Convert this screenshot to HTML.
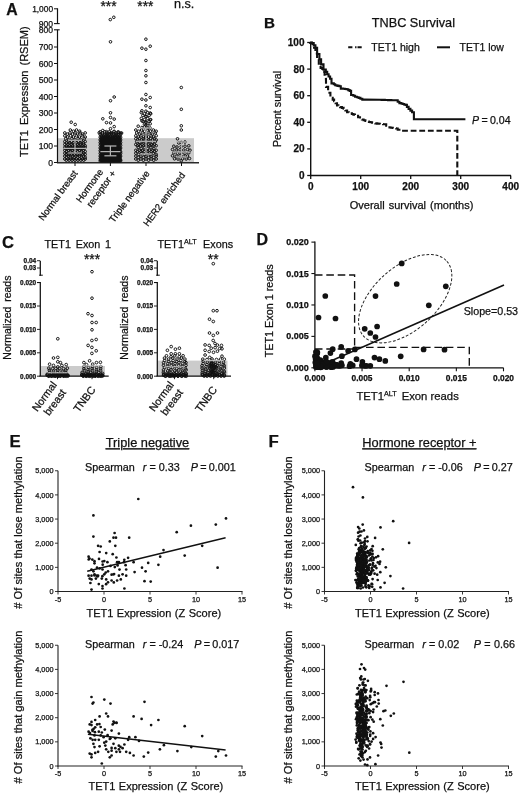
<!DOCTYPE html>
<html lang="en"><head><meta charset="utf-8"><title>TET1 figure</title>
<style>html,body{margin:0;padding:0;background:#fff}svg{display:block}text{font-family:'Liberation Sans', sans-serif;fill:#111;stroke:#111;stroke-width:0.25px}</style>
</head><body>
<svg width="520" height="795" viewBox="0 0 520 795">
<rect width="520" height="795" fill="#fff"/>
<text x="6.3" y="14.6" font-size="15.8" text-anchor="start" font-weight="bold">A</text>
<rect x="57.5" y="138.2" width="136.5" height="24.30000000000001" fill="#cbcbcb"/>
<line x1="57.50" y1="8.30" x2="57.50" y2="23.60" stroke="#111" stroke-width="1.2"/>
<line x1="57.50" y1="29.80" x2="57.50" y2="162.50" stroke="#111" stroke-width="1.2"/>
<line x1="54.00" y1="23.60" x2="59.70" y2="23.60" stroke="#111" stroke-width="1.1"/>
<line x1="54.00" y1="29.80" x2="59.70" y2="29.80" stroke="#111" stroke-width="1.1"/>
<line x1="56.90" y1="162.70" x2="199.00" y2="162.70" stroke="#2a2a2a" stroke-width="1.5"/>
<line x1="54.00" y1="162.50" x2="57.50" y2="162.50" stroke="#111" stroke-width="1"/>
<text x="53.1" y="165.5" font-size="8.6" text-anchor="end">0</text>
<line x1="54.00" y1="146.00" x2="57.50" y2="146.00" stroke="#111" stroke-width="1"/>
<text x="53.1" y="149.0" font-size="8.6" text-anchor="end">100</text>
<line x1="54.00" y1="129.50" x2="57.50" y2="129.50" stroke="#111" stroke-width="1"/>
<text x="53.1" y="132.5" font-size="8.6" text-anchor="end">200</text>
<line x1="54.00" y1="113.00" x2="57.50" y2="113.00" stroke="#111" stroke-width="1"/>
<text x="53.1" y="116.0" font-size="8.6" text-anchor="end">300</text>
<line x1="54.00" y1="96.50" x2="57.50" y2="96.50" stroke="#111" stroke-width="1"/>
<text x="53.1" y="99.5" font-size="8.6" text-anchor="end">400</text>
<line x1="54.00" y1="80.00" x2="57.50" y2="80.00" stroke="#111" stroke-width="1"/>
<text x="53.1" y="83.0" font-size="8.6" text-anchor="end">500</text>
<line x1="54.00" y1="63.50" x2="57.50" y2="63.50" stroke="#111" stroke-width="1"/>
<text x="53.1" y="66.5" font-size="8.6" text-anchor="end">600</text>
<line x1="54.00" y1="47.00" x2="57.50" y2="47.00" stroke="#111" stroke-width="1"/>
<text x="53.1" y="50.0" font-size="8.6" text-anchor="end">700</text>
<text x="53.1" y="32.6" font-size="8.6" text-anchor="end">800</text>
<text x="53.1" y="26.8" font-size="8.6" text-anchor="end">900</text>
<line x1="54.00" y1="8.80" x2="57.50" y2="8.80" stroke="#111" stroke-width="1"/>
<text x="53.1" y="11.8" font-size="8.4" text-anchor="end">1,000</text>
<text x="27.8" y="91.7" font-size="11" text-anchor="middle" transform="rotate(-90 27.8 91.7)" word-spacing="2">TET1 Expression (RSEM)</text>
<line x1="75.00" y1="162.50" x2="75.00" y2="166.00" stroke="#111" stroke-width="1"/>
<line x1="110.40" y1="162.50" x2="110.40" y2="166.00" stroke="#111" stroke-width="1"/>
<line x1="146.00" y1="162.50" x2="146.00" y2="166.00" stroke="#111" stroke-width="1"/>
<line x1="181.50" y1="162.50" x2="181.50" y2="166.00" stroke="#111" stroke-width="1"/>
<g fill="none" stroke="#111" stroke-width="1.0"><circle cx="64.8" cy="150.3" r="1.3"/><circle cx="66.7" cy="151.5" r="1.3"/><circle cx="68.5" cy="150.3" r="1.3"/><circle cx="70.4" cy="151.5" r="1.3"/><circle cx="72.2" cy="150.3" r="1.3"/><circle cx="74.1" cy="151.5" r="1.3"/><circle cx="75.9" cy="150.3" r="1.3"/><circle cx="77.8" cy="151.5" r="1.3"/><circle cx="79.6" cy="150.3" r="1.3"/><circle cx="81.5" cy="151.5" r="1.3"/><circle cx="83.3" cy="150.3" r="1.3"/><circle cx="85.2" cy="151.5" r="1.3"/><circle cx="64.8" cy="156.1" r="1.3"/><circle cx="66.7" cy="157.3" r="1.3"/><circle cx="68.5" cy="156.1" r="1.3"/><circle cx="70.4" cy="157.3" r="1.3"/><circle cx="72.2" cy="156.1" r="1.3"/><circle cx="74.1" cy="157.3" r="1.3"/><circle cx="75.9" cy="156.1" r="1.3"/><circle cx="77.8" cy="157.3" r="1.3"/><circle cx="79.6" cy="156.1" r="1.3"/><circle cx="81.5" cy="157.3" r="1.3"/><circle cx="83.3" cy="156.1" r="1.3"/><circle cx="85.2" cy="157.3" r="1.3"/><circle cx="64.8" cy="141.6" r="1.3"/><circle cx="66.5" cy="142.8" r="1.3"/><circle cx="68.2" cy="141.6" r="1.3"/><circle cx="69.9" cy="142.8" r="1.3"/><circle cx="71.6" cy="141.6" r="1.3"/><circle cx="73.3" cy="142.8" r="1.3"/><circle cx="75.0" cy="141.6" r="1.3"/><circle cx="76.7" cy="142.8" r="1.3"/><circle cx="78.4" cy="141.6" r="1.3"/><circle cx="80.1" cy="142.8" r="1.3"/><circle cx="81.8" cy="141.6" r="1.3"/><circle cx="83.5" cy="142.8" r="1.3"/><circle cx="85.2" cy="141.6" r="1.3"/><circle cx="64.8" cy="159.0" r="1.3"/><circle cx="66.3" cy="160.2" r="1.3"/><circle cx="67.7" cy="159.0" r="1.3"/><circle cx="69.2" cy="160.2" r="1.3"/><circle cx="70.6" cy="159.0" r="1.3"/><circle cx="72.1" cy="160.2" r="1.3"/><circle cx="73.5" cy="159.0" r="1.3"/><circle cx="75.0" cy="160.2" r="1.3"/><circle cx="76.5" cy="159.0" r="1.3"/><circle cx="77.9" cy="160.2" r="1.3"/><circle cx="79.4" cy="159.0" r="1.3"/><circle cx="80.8" cy="160.2" r="1.3"/><circle cx="82.3" cy="159.0" r="1.3"/><circle cx="83.7" cy="160.2" r="1.3"/><circle cx="85.2" cy="159.0" r="1.3"/><circle cx="64.8" cy="144.5" r="1.3"/><circle cx="66.4" cy="145.7" r="1.3"/><circle cx="67.9" cy="144.5" r="1.3"/><circle cx="69.5" cy="145.7" r="1.3"/><circle cx="71.1" cy="144.5" r="1.3"/><circle cx="72.6" cy="145.7" r="1.3"/><circle cx="74.2" cy="144.5" r="1.3"/><circle cx="75.8" cy="145.7" r="1.3"/><circle cx="77.4" cy="144.5" r="1.3"/><circle cx="78.9" cy="145.7" r="1.3"/><circle cx="80.5" cy="144.5" r="1.3"/><circle cx="82.1" cy="145.7" r="1.3"/><circle cx="83.6" cy="144.5" r="1.3"/><circle cx="85.2" cy="145.7" r="1.3"/><circle cx="64.8" cy="147.4" r="1.3"/><circle cx="65.7" cy="148.6" r="1.3"/><circle cx="66.7" cy="147.4" r="1.3"/><circle cx="67.6" cy="148.6" r="1.3"/><circle cx="68.5" cy="147.4" r="1.3"/><circle cx="69.4" cy="148.6" r="1.3"/><circle cx="70.4" cy="147.4" r="1.3"/><circle cx="71.3" cy="148.6" r="1.3"/><circle cx="72.2" cy="147.4" r="1.3"/><circle cx="73.1" cy="148.6" r="1.3"/><circle cx="74.1" cy="147.4" r="1.3"/><circle cx="75.0" cy="148.6" r="1.3"/><circle cx="75.9" cy="147.4" r="1.3"/><circle cx="76.9" cy="148.6" r="1.3"/><circle cx="77.8" cy="147.4" r="1.3"/><circle cx="78.7" cy="148.6" r="1.3"/><circle cx="79.6" cy="147.4" r="1.3"/><circle cx="80.6" cy="148.6" r="1.3"/><circle cx="81.5" cy="147.4" r="1.3"/><circle cx="82.4" cy="148.6" r="1.3"/><circle cx="83.3" cy="147.4" r="1.3"/><circle cx="84.3" cy="148.6" r="1.3"/><circle cx="85.2" cy="147.4" r="1.3"/><circle cx="64.8" cy="135.8" r="1.3"/><circle cx="67.7" cy="137.0" r="1.3"/><circle cx="70.6" cy="135.8" r="1.3"/><circle cx="73.5" cy="137.0" r="1.3"/><circle cx="76.5" cy="135.8" r="1.3"/><circle cx="79.4" cy="137.0" r="1.3"/><circle cx="82.3" cy="135.8" r="1.3"/><circle cx="85.2" cy="137.0" r="1.3"/><circle cx="64.8" cy="153.2" r="1.3"/><circle cx="66.2" cy="154.4" r="1.3"/><circle cx="67.5" cy="153.2" r="1.3"/><circle cx="68.9" cy="154.4" r="1.3"/><circle cx="70.2" cy="153.2" r="1.3"/><circle cx="71.6" cy="154.4" r="1.3"/><circle cx="73.0" cy="153.2" r="1.3"/><circle cx="74.3" cy="154.4" r="1.3"/><circle cx="75.7" cy="153.2" r="1.3"/><circle cx="77.0" cy="154.4" r="1.3"/><circle cx="78.4" cy="153.2" r="1.3"/><circle cx="79.8" cy="154.4" r="1.3"/><circle cx="81.1" cy="153.2" r="1.3"/><circle cx="82.5" cy="154.4" r="1.3"/><circle cx="83.8" cy="153.2" r="1.3"/><circle cx="85.2" cy="154.4" r="1.3"/><circle cx="64.8" cy="132.9" r="1.3"/><circle cx="67.3" cy="134.1" r="1.3"/><circle cx="69.9" cy="132.9" r="1.3"/><circle cx="72.5" cy="134.1" r="1.3"/><circle cx="75.0" cy="132.9" r="1.3"/><circle cx="77.5" cy="134.1" r="1.3"/><circle cx="80.1" cy="132.9" r="1.3"/><circle cx="82.7" cy="134.1" r="1.3"/><circle cx="85.2" cy="132.9" r="1.3"/><circle cx="70.3" cy="130.0" r="1.3"/><circle cx="73.5" cy="131.2" r="1.3"/><circle cx="76.5" cy="130.0" r="1.3"/><circle cx="79.7" cy="131.2" r="1.3"/><circle cx="65.7" cy="138.7" r="1.3"/><circle cx="68.8" cy="139.9" r="1.3"/><circle cx="71.9" cy="138.7" r="1.3"/><circle cx="75.0" cy="139.9" r="1.3"/><circle cx="78.1" cy="138.7" r="1.3"/><circle cx="81.2" cy="139.9" r="1.3"/><circle cx="84.3" cy="138.7" r="1.3"/></g>
<g fill="none" stroke="#111" stroke-width="1.0"><circle cx="71.2" cy="122.2" r="1.3"/><circle cx="75.2" cy="124.5" r="1.3"/></g>
<g fill="none" stroke="#111" stroke-width="1.0"><circle cx="100.2" cy="153.4" r="1.3"/><circle cx="100.9" cy="154.6" r="1.3"/><circle cx="101.7" cy="153.4" r="1.3"/><circle cx="102.4" cy="154.6" r="1.3"/><circle cx="103.1" cy="153.4" r="1.3"/><circle cx="103.8" cy="154.6" r="1.3"/><circle cx="104.6" cy="153.4" r="1.3"/><circle cx="105.3" cy="154.6" r="1.3"/><circle cx="106.0" cy="153.4" r="1.3"/><circle cx="106.8" cy="154.6" r="1.3"/><circle cx="107.5" cy="153.4" r="1.3"/><circle cx="108.2" cy="154.6" r="1.3"/><circle cx="108.9" cy="153.4" r="1.3"/><circle cx="109.7" cy="154.6" r="1.3"/><circle cx="110.4" cy="153.4" r="1.3"/><circle cx="111.1" cy="154.6" r="1.3"/><circle cx="111.9" cy="153.4" r="1.3"/><circle cx="112.6" cy="154.6" r="1.3"/><circle cx="113.3" cy="153.4" r="1.3"/><circle cx="114.0" cy="154.6" r="1.3"/><circle cx="114.8" cy="153.4" r="1.3"/><circle cx="115.5" cy="154.6" r="1.3"/><circle cx="116.2" cy="153.4" r="1.3"/><circle cx="117.0" cy="154.6" r="1.3"/><circle cx="117.7" cy="153.4" r="1.3"/><circle cx="118.4" cy="154.6" r="1.3"/><circle cx="119.1" cy="153.4" r="1.3"/><circle cx="119.9" cy="154.6" r="1.3"/><circle cx="120.6" cy="153.4" r="1.3"/><circle cx="100.2" cy="160.9" r="1.3"/><circle cx="101.4" cy="160.9" r="1.3"/><circle cx="102.6" cy="160.9" r="1.3"/><circle cx="103.8" cy="160.9" r="1.3"/><circle cx="105.0" cy="160.9" r="1.3"/><circle cx="106.2" cy="160.9" r="1.3"/><circle cx="107.4" cy="160.9" r="1.3"/><circle cx="108.6" cy="160.9" r="1.3"/><circle cx="109.8" cy="160.9" r="1.3"/><circle cx="111.0" cy="160.9" r="1.3"/><circle cx="112.2" cy="160.9" r="1.3"/><circle cx="113.4" cy="160.9" r="1.3"/><circle cx="114.6" cy="160.9" r="1.3"/><circle cx="115.8" cy="160.9" r="1.3"/><circle cx="117.0" cy="160.9" r="1.3"/><circle cx="118.2" cy="160.9" r="1.3"/><circle cx="119.4" cy="160.9" r="1.3"/><circle cx="120.6" cy="160.9" r="1.3"/><circle cx="100.2" cy="139.9" r="1.3"/><circle cx="100.9" cy="141.1" r="1.3"/><circle cx="101.6" cy="139.9" r="1.3"/><circle cx="102.2" cy="141.1" r="1.3"/><circle cx="102.9" cy="139.9" r="1.3"/><circle cx="103.6" cy="141.1" r="1.3"/><circle cx="104.3" cy="139.9" r="1.3"/><circle cx="105.0" cy="141.1" r="1.3"/><circle cx="105.6" cy="139.9" r="1.3"/><circle cx="106.3" cy="141.1" r="1.3"/><circle cx="107.0" cy="139.9" r="1.3"/><circle cx="107.7" cy="141.1" r="1.3"/><circle cx="108.4" cy="139.9" r="1.3"/><circle cx="109.0" cy="141.1" r="1.3"/><circle cx="109.7" cy="139.9" r="1.3"/><circle cx="110.4" cy="141.1" r="1.3"/><circle cx="111.1" cy="139.9" r="1.3"/><circle cx="111.8" cy="141.1" r="1.3"/><circle cx="112.4" cy="139.9" r="1.3"/><circle cx="113.1" cy="141.1" r="1.3"/><circle cx="113.8" cy="139.9" r="1.3"/><circle cx="114.5" cy="141.1" r="1.3"/><circle cx="115.2" cy="139.9" r="1.3"/><circle cx="115.8" cy="141.1" r="1.3"/><circle cx="116.5" cy="139.9" r="1.3"/><circle cx="117.2" cy="141.1" r="1.3"/><circle cx="117.9" cy="139.9" r="1.3"/><circle cx="118.6" cy="141.1" r="1.3"/><circle cx="119.2" cy="139.9" r="1.3"/><circle cx="119.9" cy="141.1" r="1.3"/><circle cx="120.6" cy="139.9" r="1.3"/><circle cx="100.2" cy="145.3" r="1.3"/><circle cx="101.1" cy="146.5" r="1.3"/><circle cx="102.1" cy="145.3" r="1.3"/><circle cx="103.0" cy="146.5" r="1.3"/><circle cx="103.9" cy="145.3" r="1.3"/><circle cx="104.8" cy="146.5" r="1.3"/><circle cx="105.8" cy="145.3" r="1.3"/><circle cx="106.7" cy="146.5" r="1.3"/><circle cx="107.6" cy="145.3" r="1.3"/><circle cx="108.5" cy="146.5" r="1.3"/><circle cx="109.5" cy="145.3" r="1.3"/><circle cx="110.4" cy="146.5" r="1.3"/><circle cx="111.3" cy="145.3" r="1.3"/><circle cx="112.3" cy="146.5" r="1.3"/><circle cx="113.2" cy="145.3" r="1.3"/><circle cx="114.1" cy="146.5" r="1.3"/><circle cx="115.0" cy="145.3" r="1.3"/><circle cx="116.0" cy="146.5" r="1.3"/><circle cx="116.9" cy="145.3" r="1.3"/><circle cx="117.8" cy="146.5" r="1.3"/><circle cx="118.7" cy="145.3" r="1.3"/><circle cx="119.7" cy="146.5" r="1.3"/><circle cx="120.6" cy="145.3" r="1.3"/><circle cx="100.2" cy="158.8" r="1.3"/><circle cx="100.7" cy="160.0" r="1.3"/><circle cx="101.2" cy="158.8" r="1.3"/><circle cx="101.8" cy="160.0" r="1.3"/><circle cx="102.3" cy="158.8" r="1.3"/><circle cx="102.8" cy="160.0" r="1.3"/><circle cx="103.3" cy="158.8" r="1.3"/><circle cx="103.9" cy="160.0" r="1.3"/><circle cx="104.4" cy="158.8" r="1.3"/><circle cx="104.9" cy="160.0" r="1.3"/><circle cx="105.4" cy="158.8" r="1.3"/><circle cx="106.0" cy="160.0" r="1.3"/><circle cx="106.5" cy="158.8" r="1.3"/><circle cx="107.0" cy="160.0" r="1.3"/><circle cx="107.5" cy="158.8" r="1.3"/><circle cx="108.0" cy="160.0" r="1.3"/><circle cx="108.6" cy="158.8" r="1.3"/><circle cx="109.1" cy="160.0" r="1.3"/><circle cx="109.6" cy="158.8" r="1.3"/><circle cx="110.1" cy="160.0" r="1.3"/><circle cx="110.7" cy="158.8" r="1.3"/><circle cx="111.2" cy="160.0" r="1.3"/><circle cx="111.7" cy="158.8" r="1.3"/><circle cx="112.2" cy="160.0" r="1.3"/><circle cx="112.8" cy="158.8" r="1.3"/><circle cx="113.3" cy="160.0" r="1.3"/><circle cx="113.8" cy="158.8" r="1.3"/><circle cx="114.3" cy="160.0" r="1.3"/><circle cx="114.8" cy="158.8" r="1.3"/><circle cx="115.4" cy="160.0" r="1.3"/><circle cx="115.9" cy="158.8" r="1.3"/><circle cx="116.4" cy="160.0" r="1.3"/><circle cx="116.9" cy="158.8" r="1.3"/><circle cx="117.5" cy="160.0" r="1.3"/><circle cx="118.0" cy="158.8" r="1.3"/><circle cx="118.5" cy="160.0" r="1.3"/><circle cx="119.0" cy="158.8" r="1.3"/><circle cx="119.6" cy="160.0" r="1.3"/><circle cx="120.1" cy="158.8" r="1.3"/><circle cx="120.6" cy="160.0" r="1.3"/><circle cx="100.2" cy="156.1" r="1.3"/><circle cx="100.7" cy="157.3" r="1.3"/><circle cx="101.3" cy="156.1" r="1.3"/><circle cx="101.8" cy="157.3" r="1.3"/><circle cx="102.3" cy="156.1" r="1.3"/><circle cx="102.9" cy="157.3" r="1.3"/><circle cx="103.4" cy="156.1" r="1.3"/><circle cx="104.0" cy="157.3" r="1.3"/><circle cx="104.5" cy="156.1" r="1.3"/><circle cx="105.0" cy="157.3" r="1.3"/><circle cx="105.6" cy="156.1" r="1.3"/><circle cx="106.1" cy="157.3" r="1.3"/><circle cx="106.6" cy="156.1" r="1.3"/><circle cx="107.2" cy="157.3" r="1.3"/><circle cx="107.7" cy="156.1" r="1.3"/><circle cx="108.3" cy="157.3" r="1.3"/><circle cx="108.8" cy="156.1" r="1.3"/><circle cx="109.3" cy="157.3" r="1.3"/><circle cx="109.9" cy="156.1" r="1.3"/><circle cx="110.4" cy="157.3" r="1.3"/><circle cx="110.9" cy="156.1" r="1.3"/><circle cx="111.5" cy="157.3" r="1.3"/><circle cx="112.0" cy="156.1" r="1.3"/><circle cx="112.5" cy="157.3" r="1.3"/><circle cx="113.1" cy="156.1" r="1.3"/><circle cx="113.6" cy="157.3" r="1.3"/><circle cx="114.2" cy="156.1" r="1.3"/><circle cx="114.7" cy="157.3" r="1.3"/><circle cx="115.2" cy="156.1" r="1.3"/><circle cx="115.8" cy="157.3" r="1.3"/><circle cx="116.3" cy="156.1" r="1.3"/><circle cx="116.8" cy="157.3" r="1.3"/><circle cx="117.4" cy="156.1" r="1.3"/><circle cx="117.9" cy="157.3" r="1.3"/><circle cx="118.5" cy="156.1" r="1.3"/><circle cx="119.0" cy="157.3" r="1.3"/><circle cx="119.5" cy="156.1" r="1.3"/><circle cx="120.1" cy="157.3" r="1.3"/><circle cx="120.6" cy="156.1" r="1.3"/><circle cx="100.2" cy="137.2" r="1.3"/><circle cx="100.9" cy="138.4" r="1.3"/><circle cx="101.7" cy="137.2" r="1.3"/><circle cx="102.4" cy="138.4" r="1.3"/><circle cx="103.1" cy="137.2" r="1.3"/><circle cx="103.8" cy="138.4" r="1.3"/><circle cx="104.6" cy="137.2" r="1.3"/><circle cx="105.3" cy="138.4" r="1.3"/><circle cx="106.0" cy="137.2" r="1.3"/><circle cx="106.8" cy="138.4" r="1.3"/><circle cx="107.5" cy="137.2" r="1.3"/><circle cx="108.2" cy="138.4" r="1.3"/><circle cx="108.9" cy="137.2" r="1.3"/><circle cx="109.7" cy="138.4" r="1.3"/><circle cx="110.4" cy="137.2" r="1.3"/><circle cx="111.1" cy="138.4" r="1.3"/><circle cx="111.9" cy="137.2" r="1.3"/><circle cx="112.6" cy="138.4" r="1.3"/><circle cx="113.3" cy="137.2" r="1.3"/><circle cx="114.0" cy="138.4" r="1.3"/><circle cx="114.8" cy="137.2" r="1.3"/><circle cx="115.5" cy="138.4" r="1.3"/><circle cx="116.2" cy="137.2" r="1.3"/><circle cx="117.0" cy="138.4" r="1.3"/><circle cx="117.7" cy="137.2" r="1.3"/><circle cx="118.4" cy="138.4" r="1.3"/><circle cx="119.1" cy="137.2" r="1.3"/><circle cx="119.9" cy="138.4" r="1.3"/><circle cx="120.6" cy="137.2" r="1.3"/><circle cx="100.2" cy="150.7" r="1.3"/><circle cx="100.8" cy="151.9" r="1.3"/><circle cx="101.4" cy="150.7" r="1.3"/><circle cx="102.1" cy="151.9" r="1.3"/><circle cx="102.7" cy="150.7" r="1.3"/><circle cx="103.3" cy="151.9" r="1.3"/><circle cx="103.9" cy="150.7" r="1.3"/><circle cx="104.5" cy="151.9" r="1.3"/><circle cx="105.1" cy="150.7" r="1.3"/><circle cx="105.8" cy="151.9" r="1.3"/><circle cx="106.4" cy="150.7" r="1.3"/><circle cx="107.0" cy="151.9" r="1.3"/><circle cx="107.6" cy="150.7" r="1.3"/><circle cx="108.2" cy="151.9" r="1.3"/><circle cx="108.9" cy="150.7" r="1.3"/><circle cx="109.5" cy="151.9" r="1.3"/><circle cx="110.1" cy="150.7" r="1.3"/><circle cx="110.7" cy="151.9" r="1.3"/><circle cx="111.3" cy="150.7" r="1.3"/><circle cx="111.9" cy="151.9" r="1.3"/><circle cx="112.6" cy="150.7" r="1.3"/><circle cx="113.2" cy="151.9" r="1.3"/><circle cx="113.8" cy="150.7" r="1.3"/><circle cx="114.4" cy="151.9" r="1.3"/><circle cx="115.0" cy="150.7" r="1.3"/><circle cx="115.7" cy="151.9" r="1.3"/><circle cx="116.3" cy="150.7" r="1.3"/><circle cx="116.9" cy="151.9" r="1.3"/><circle cx="117.5" cy="150.7" r="1.3"/><circle cx="118.1" cy="151.9" r="1.3"/><circle cx="118.7" cy="150.7" r="1.3"/><circle cx="119.4" cy="151.9" r="1.3"/><circle cx="120.0" cy="150.7" r="1.3"/><circle cx="120.6" cy="151.9" r="1.3"/><circle cx="100.2" cy="142.6" r="1.3"/><circle cx="100.8" cy="143.8" r="1.3"/><circle cx="101.5" cy="142.6" r="1.3"/><circle cx="102.1" cy="143.8" r="1.3"/><circle cx="102.8" cy="142.6" r="1.3"/><circle cx="103.4" cy="143.8" r="1.3"/><circle cx="104.0" cy="142.6" r="1.3"/><circle cx="104.7" cy="143.8" r="1.3"/><circle cx="105.3" cy="142.6" r="1.3"/><circle cx="105.9" cy="143.8" r="1.3"/><circle cx="106.6" cy="142.6" r="1.3"/><circle cx="107.2" cy="143.8" r="1.3"/><circle cx="107.9" cy="142.6" r="1.3"/><circle cx="108.5" cy="143.8" r="1.3"/><circle cx="109.1" cy="142.6" r="1.3"/><circle cx="109.8" cy="143.8" r="1.3"/><circle cx="110.4" cy="142.6" r="1.3"/><circle cx="111.0" cy="143.8" r="1.3"/><circle cx="111.7" cy="142.6" r="1.3"/><circle cx="112.3" cy="143.8" r="1.3"/><circle cx="113.0" cy="142.6" r="1.3"/><circle cx="113.6" cy="143.8" r="1.3"/><circle cx="114.2" cy="142.6" r="1.3"/><circle cx="114.9" cy="143.8" r="1.3"/><circle cx="115.5" cy="142.6" r="1.3"/><circle cx="116.1" cy="143.8" r="1.3"/><circle cx="116.8" cy="142.6" r="1.3"/><circle cx="117.4" cy="143.8" r="1.3"/><circle cx="118.1" cy="142.6" r="1.3"/><circle cx="118.7" cy="143.8" r="1.3"/><circle cx="119.3" cy="142.6" r="1.3"/><circle cx="120.0" cy="143.8" r="1.3"/><circle cx="120.6" cy="142.6" r="1.3"/><circle cx="100.2" cy="148.0" r="1.3"/><circle cx="100.8" cy="149.2" r="1.3"/><circle cx="101.5" cy="148.0" r="1.3"/><circle cx="102.1" cy="149.2" r="1.3"/><circle cx="102.8" cy="148.0" r="1.3"/><circle cx="103.4" cy="149.2" r="1.3"/><circle cx="104.0" cy="148.0" r="1.3"/><circle cx="104.7" cy="149.2" r="1.3"/><circle cx="105.3" cy="148.0" r="1.3"/><circle cx="105.9" cy="149.2" r="1.3"/><circle cx="106.6" cy="148.0" r="1.3"/><circle cx="107.2" cy="149.2" r="1.3"/><circle cx="107.9" cy="148.0" r="1.3"/><circle cx="108.5" cy="149.2" r="1.3"/><circle cx="109.1" cy="148.0" r="1.3"/><circle cx="109.8" cy="149.2" r="1.3"/><circle cx="110.4" cy="148.0" r="1.3"/><circle cx="111.0" cy="149.2" r="1.3"/><circle cx="111.7" cy="148.0" r="1.3"/><circle cx="112.3" cy="149.2" r="1.3"/><circle cx="113.0" cy="148.0" r="1.3"/><circle cx="113.6" cy="149.2" r="1.3"/><circle cx="114.2" cy="148.0" r="1.3"/><circle cx="114.9" cy="149.2" r="1.3"/><circle cx="115.5" cy="148.0" r="1.3"/><circle cx="116.1" cy="149.2" r="1.3"/><circle cx="116.8" cy="148.0" r="1.3"/><circle cx="117.4" cy="149.2" r="1.3"/><circle cx="118.1" cy="148.0" r="1.3"/><circle cx="118.7" cy="149.2" r="1.3"/><circle cx="119.3" cy="148.0" r="1.3"/><circle cx="120.0" cy="149.2" r="1.3"/><circle cx="120.6" cy="148.0" r="1.3"/><circle cx="100.2" cy="134.5" r="1.3"/><circle cx="101.3" cy="135.7" r="1.3"/><circle cx="102.5" cy="134.5" r="1.3"/><circle cx="103.6" cy="135.7" r="1.3"/><circle cx="104.7" cy="134.5" r="1.3"/><circle cx="105.9" cy="135.7" r="1.3"/><circle cx="107.0" cy="134.5" r="1.3"/><circle cx="108.1" cy="135.7" r="1.3"/><circle cx="109.3" cy="134.5" r="1.3"/><circle cx="110.4" cy="135.7" r="1.3"/><circle cx="111.5" cy="134.5" r="1.3"/><circle cx="112.7" cy="135.7" r="1.3"/><circle cx="113.8" cy="134.5" r="1.3"/><circle cx="114.9" cy="135.7" r="1.3"/><circle cx="116.1" cy="134.5" r="1.3"/><circle cx="117.2" cy="135.7" r="1.3"/><circle cx="118.3" cy="134.5" r="1.3"/><circle cx="119.5" cy="135.7" r="1.3"/><circle cx="120.6" cy="134.5" r="1.3"/><circle cx="100.2" cy="131.8" r="1.3"/><circle cx="102.5" cy="133.0" r="1.3"/><circle cx="104.7" cy="131.8" r="1.3"/><circle cx="107.0" cy="133.0" r="1.3"/><circle cx="109.3" cy="131.8" r="1.3"/><circle cx="111.5" cy="133.0" r="1.3"/><circle cx="113.8" cy="131.8" r="1.3"/><circle cx="116.1" cy="133.0" r="1.3"/><circle cx="118.3" cy="131.8" r="1.3"/><circle cx="120.6" cy="133.0" r="1.3"/></g>
<g fill="none" stroke="#111" stroke-width="1.0"><circle cx="102.8" cy="118.8" r="1.3"/><circle cx="110.5" cy="117.5" r="1.3"/><circle cx="114.2" cy="119.1" r="1.3"/><circle cx="106.5" cy="122.6" r="1.3"/><circle cx="110.5" cy="122.9" r="1.3"/><circle cx="114.2" cy="126.6" r="1.3"/><circle cx="110.5" cy="128.7" r="1.3"/><circle cx="110.5" cy="112.8" r="1.3"/><circle cx="110.5" cy="100.7" r="1.3"/><circle cx="114.2" cy="97" r="1.3"/><circle cx="110.5" cy="41.8" r="1.3"/><circle cx="110.3" cy="19.6" r="1.3"/><circle cx="113.8" cy="17.3" r="1.3"/><circle cx="102.8" cy="130.5" r="1.3"/><circle cx="106.5" cy="131.6" r="1.3"/><circle cx="114.2" cy="131.3" r="1.3"/><circle cx="118" cy="132.4" r="1.3"/><circle cx="110.5" cy="133" r="1.3"/><circle cx="99.2" cy="132.8" r="1.3"/><circle cx="121.6" cy="133" r="1.3"/></g>
<g fill="none" stroke="#111" stroke-width="1.0"><circle cx="136.7" cy="141.6" r="1.3"/><circle cx="139.8" cy="142.8" r="1.3"/><circle cx="142.9" cy="141.6" r="1.3"/><circle cx="146.0" cy="142.8" r="1.3"/><circle cx="149.1" cy="141.6" r="1.3"/><circle cx="152.2" cy="142.8" r="1.3"/><circle cx="155.3" cy="141.6" r="1.3"/><circle cx="135.8" cy="138.7" r="1.3"/><circle cx="137.7" cy="139.9" r="1.3"/><circle cx="139.5" cy="138.7" r="1.3"/><circle cx="141.4" cy="139.9" r="1.3"/><circle cx="143.2" cy="138.7" r="1.3"/><circle cx="145.1" cy="139.9" r="1.3"/><circle cx="146.9" cy="138.7" r="1.3"/><circle cx="148.8" cy="139.9" r="1.3"/><circle cx="150.6" cy="138.7" r="1.3"/><circle cx="152.5" cy="139.9" r="1.3"/><circle cx="154.3" cy="138.7" r="1.3"/><circle cx="156.2" cy="139.9" r="1.3"/><circle cx="135.8" cy="144.5" r="1.3"/><circle cx="137.4" cy="145.7" r="1.3"/><circle cx="138.9" cy="144.5" r="1.3"/><circle cx="140.5" cy="145.7" r="1.3"/><circle cx="142.1" cy="144.5" r="1.3"/><circle cx="143.6" cy="145.7" r="1.3"/><circle cx="145.2" cy="144.5" r="1.3"/><circle cx="146.8" cy="145.7" r="1.3"/><circle cx="148.4" cy="144.5" r="1.3"/><circle cx="149.9" cy="145.7" r="1.3"/><circle cx="151.5" cy="144.5" r="1.3"/><circle cx="153.1" cy="145.7" r="1.3"/><circle cx="154.6" cy="144.5" r="1.3"/><circle cx="156.2" cy="145.7" r="1.3"/><circle cx="135.8" cy="159.0" r="1.3"/><circle cx="138.3" cy="160.2" r="1.3"/><circle cx="140.9" cy="159.0" r="1.3"/><circle cx="143.4" cy="160.2" r="1.3"/><circle cx="146.0" cy="159.0" r="1.3"/><circle cx="148.6" cy="160.2" r="1.3"/><circle cx="151.1" cy="159.0" r="1.3"/><circle cx="153.7" cy="160.2" r="1.3"/><circle cx="156.2" cy="159.0" r="1.3"/><circle cx="135.8" cy="135.8" r="1.3"/><circle cx="138.3" cy="137.0" r="1.3"/><circle cx="140.9" cy="135.8" r="1.3"/><circle cx="143.4" cy="137.0" r="1.3"/><circle cx="146.0" cy="135.8" r="1.3"/><circle cx="148.6" cy="137.0" r="1.3"/><circle cx="151.1" cy="135.8" r="1.3"/><circle cx="153.7" cy="137.0" r="1.3"/><circle cx="156.2" cy="135.8" r="1.3"/><circle cx="135.8" cy="153.2" r="1.3"/><circle cx="138.7" cy="154.4" r="1.3"/><circle cx="141.6" cy="153.2" r="1.3"/><circle cx="144.5" cy="154.4" r="1.3"/><circle cx="147.5" cy="153.2" r="1.3"/><circle cx="150.4" cy="154.4" r="1.3"/><circle cx="153.3" cy="153.2" r="1.3"/><circle cx="156.2" cy="154.4" r="1.3"/><circle cx="135.8" cy="156.1" r="1.3"/><circle cx="138.3" cy="157.3" r="1.3"/><circle cx="140.9" cy="156.1" r="1.3"/><circle cx="143.4" cy="157.3" r="1.3"/><circle cx="146.0" cy="156.1" r="1.3"/><circle cx="148.6" cy="157.3" r="1.3"/><circle cx="151.1" cy="156.1" r="1.3"/><circle cx="153.7" cy="157.3" r="1.3"/><circle cx="156.2" cy="156.1" r="1.3"/><circle cx="135.8" cy="150.3" r="1.3"/><circle cx="137.5" cy="151.5" r="1.3"/><circle cx="139.2" cy="150.3" r="1.3"/><circle cx="140.9" cy="151.5" r="1.3"/><circle cx="142.6" cy="150.3" r="1.3"/><circle cx="144.3" cy="151.5" r="1.3"/><circle cx="146.0" cy="150.3" r="1.3"/><circle cx="147.7" cy="151.5" r="1.3"/><circle cx="149.4" cy="150.3" r="1.3"/><circle cx="151.1" cy="151.5" r="1.3"/><circle cx="152.8" cy="150.3" r="1.3"/><circle cx="154.5" cy="151.5" r="1.3"/><circle cx="156.2" cy="150.3" r="1.3"/><circle cx="135.8" cy="130.0" r="1.3"/><circle cx="138.7" cy="131.2" r="1.3"/><circle cx="141.6" cy="130.0" r="1.3"/><circle cx="144.5" cy="131.2" r="1.3"/><circle cx="147.5" cy="130.0" r="1.3"/><circle cx="150.4" cy="131.2" r="1.3"/><circle cx="153.3" cy="130.0" r="1.3"/><circle cx="156.2" cy="131.2" r="1.3"/><circle cx="138.2" cy="147.4" r="1.3"/><circle cx="141.3" cy="148.6" r="1.3"/><circle cx="144.4" cy="147.4" r="1.3"/><circle cx="147.6" cy="148.6" r="1.3"/><circle cx="150.7" cy="147.4" r="1.3"/><circle cx="153.8" cy="148.6" r="1.3"/><circle cx="136.7" cy="132.9" r="1.3"/><circle cx="139.8" cy="134.1" r="1.3"/><circle cx="142.9" cy="132.9" r="1.3"/><circle cx="146.0" cy="134.1" r="1.3"/><circle cx="149.1" cy="132.9" r="1.3"/><circle cx="152.2" cy="134.1" r="1.3"/><circle cx="155.3" cy="132.9" r="1.3"/><circle cx="144.4" cy="127.1" r="1.3"/><circle cx="147.6" cy="128.3" r="1.3"/><circle cx="144.4" cy="124.2" r="1.3"/><circle cx="147.6" cy="125.4" r="1.3"/><circle cx="141.3" cy="112.6" r="1.3"/><circle cx="144.4" cy="113.8" r="1.3"/><circle cx="147.6" cy="112.6" r="1.3"/><circle cx="150.7" cy="113.8" r="1.3"/><circle cx="142.9" cy="115.5" r="1.3"/><circle cx="146.0" cy="116.7" r="1.3"/><circle cx="149.1" cy="115.5" r="1.3"/><circle cx="141.3" cy="118.4" r="1.3"/><circle cx="144.4" cy="119.6" r="1.3"/><circle cx="147.6" cy="118.4" r="1.3"/><circle cx="150.7" cy="119.6" r="1.3"/><circle cx="142.9" cy="121.3" r="1.3"/><circle cx="146.0" cy="122.5" r="1.3"/><circle cx="149.1" cy="121.3" r="1.3"/></g>
<g fill="none" stroke="#111" stroke-width="1.0"><circle cx="145.9" cy="39.2" r="1.3"/><circle cx="145.9" cy="49.2" r="1.3"/><circle cx="141.9" cy="48.2" r="1.3"/><circle cx="150.2" cy="46.2" r="1.3"/><circle cx="145.9" cy="60.5" r="1.3"/><circle cx="145.9" cy="70.5" r="1.3"/><circle cx="145.9" cy="75.8" r="1.3"/><circle cx="145.9" cy="82.5" r="1.3"/><circle cx="145.9" cy="94.5" r="1.3"/><circle cx="141.9" cy="99.2" r="1.3"/><circle cx="150.2" cy="97.5" r="1.3"/><circle cx="145.9" cy="100.0" r="1.3"/><circle cx="145.9" cy="105.8" r="1.3"/><circle cx="150.2" cy="107.5" r="1.3"/><circle cx="141.9" cy="110.8" r="1.3"/><circle cx="145.9" cy="111.2" r="1.3"/><circle cx="150.2" cy="113.0" r="1.3"/><circle cx="145.9" cy="116.2" r="1.3"/><circle cx="150.2" cy="120.0" r="1.3"/><circle cx="141.9" cy="120.8" r="1.3"/><circle cx="145.9" cy="121.8" r="1.3"/><circle cx="150.2" cy="123.8" r="1.3"/><circle cx="145.9" cy="125.0" r="1.3"/><circle cx="138.2" cy="126.2" r="1.3"/><circle cx="141.9" cy="127.5" r="1.3"/><circle cx="150.2" cy="128.0" r="1.3"/></g>
<g fill="none" stroke="#111" stroke-width="1.0"><circle cx="181.3" cy="87.5" r="1.3"/><circle cx="181.3" cy="109.3" r="1.3"/><circle cx="181.3" cy="125.8" r="1.3"/><circle cx="181.3" cy="130.0" r="1.3"/><circle cx="177.5" cy="138.8" r="1.3"/><circle cx="185.0" cy="142.0" r="1.3"/><circle cx="181.2" cy="142.5" r="1.3"/><circle cx="178.8" cy="143.0" r="1.3"/><circle cx="173.8" cy="146.2" r="1.3"/><circle cx="177.0" cy="147.0" r="1.3"/><circle cx="185.0" cy="146.2" r="1.3"/><circle cx="188.8" cy="145.8" r="1.3"/><circle cx="181.2" cy="146.5" r="1.3"/><circle cx="172.5" cy="149.5" r="1.3"/><circle cx="176.2" cy="150.0" r="1.3"/><circle cx="180.0" cy="149.8" r="1.3"/><circle cx="183.8" cy="150.0" r="1.3"/><circle cx="187.5" cy="149.5" r="1.3"/><circle cx="190.0" cy="150.2" r="1.3"/><circle cx="173.8" cy="152.8" r="1.3"/><circle cx="177.5" cy="153.2" r="1.3"/><circle cx="181.2" cy="152.8" r="1.3"/><circle cx="185.0" cy="153.2" r="1.3"/><circle cx="188.8" cy="152.8" r="1.3"/><circle cx="172.5" cy="155.8" r="1.3"/><circle cx="176.2" cy="156.2" r="1.3"/><circle cx="180.0" cy="155.8" r="1.3"/><circle cx="183.8" cy="156.2" r="1.3"/><circle cx="187.5" cy="156.0" r="1.3"/><circle cx="174.5" cy="158.8" r="1.3"/><circle cx="178.0" cy="159.0" r="1.3"/><circle cx="182.5" cy="158.8" r="1.3"/><circle cx="186.2" cy="159.0" r="1.3"/><circle cx="189.5" cy="158.5" r="1.3"/><circle cx="181.2" cy="160.8" r="1.3"/></g>
<line x1="63.50" y1="148.40" x2="86.50" y2="148.40" stroke="#b2b2b2" stroke-width="1.25"/>
<line x1="68.10" y1="140.30" x2="81.90" y2="140.30" stroke="#b2b2b2" stroke-width="1.25"/>
<line x1="68.10" y1="153.00" x2="81.90" y2="153.00" stroke="#b2b2b2" stroke-width="1.25"/>
<line x1="75.00" y1="140.30" x2="75.00" y2="153.00" stroke="#b2b2b2" stroke-width="1.25"/>
<line x1="100.40" y1="151.60" x2="120.40" y2="151.60" stroke="#b2b2b2" stroke-width="1.25"/>
<line x1="104.40" y1="146.00" x2="116.40" y2="146.00" stroke="#b2b2b2" stroke-width="1.25"/>
<line x1="104.40" y1="155.80" x2="116.40" y2="155.80" stroke="#b2b2b2" stroke-width="1.25"/>
<line x1="110.40" y1="146.00" x2="110.40" y2="155.80" stroke="#b2b2b2" stroke-width="1.25"/>
<line x1="136.00" y1="141.30" x2="156.00" y2="141.30" stroke="#b2b2b2" stroke-width="1.25"/>
<line x1="140.00" y1="128.00" x2="152.00" y2="128.00" stroke="#b2b2b2" stroke-width="1.25"/>
<line x1="140.00" y1="154.00" x2="152.00" y2="154.00" stroke="#b2b2b2" stroke-width="1.25"/>
<line x1="146.00" y1="128.00" x2="146.00" y2="154.00" stroke="#b2b2b2" stroke-width="1.25"/>
<line x1="172.50" y1="152.00" x2="190.50" y2="152.00" stroke="#b2b2b2" stroke-width="1.25"/>
<line x1="176.10" y1="142.00" x2="186.90" y2="142.00" stroke="#b2b2b2" stroke-width="1.25"/>
<line x1="176.10" y1="157.00" x2="186.90" y2="157.00" stroke="#b2b2b2" stroke-width="1.25"/>
<line x1="181.50" y1="142.00" x2="181.50" y2="157.00" stroke="#b2b2b2" stroke-width="1.25"/>
<text x="108.5" y="11.1" font-size="13.8" text-anchor="middle">***</text>
<text x="145.4" y="11.1" font-size="13.8" text-anchor="middle">***</text>
<text x="184.1" y="7.6" font-size="12.6" text-anchor="middle">n.s.</text>
<text x="78" y="173.4" font-size="9.45" text-anchor="end" transform="rotate(-54 78 173.4)">Normal breast</text>
<text x="103.5" y="171.9" font-size="9.45" text-anchor="end" transform="rotate(-54 103.5 171.9)">Hormone</text>
<text x="116.5" y="173.4" font-size="9.45" text-anchor="end" transform="rotate(-54 116.5 173.4)">receptor +</text>
<text x="150" y="173.4" font-size="9.45" text-anchor="end" transform="rotate(-54 150 173.4)">Triple negative</text>
<text x="185.5" y="175.3" font-size="9.45" text-anchor="end" transform="rotate(-54 185.5 175.3)">HER2 enriched</text>
<text x="264" y="27.8" font-size="15.2" text-anchor="start" font-weight="bold">B</text>
<text x="413.4" y="27.3" font-size="12.7" text-anchor="middle">TNBC Survival</text>
<line x1="310.70" y1="42.00" x2="310.70" y2="176.10" stroke="#111" stroke-width="1.4"/>
<line x1="310.10" y1="175.50" x2="511.00" y2="175.50" stroke="#111" stroke-width="1.4"/>
<line x1="307.20" y1="175.50" x2="310.70" y2="175.50" stroke="#111" stroke-width="1.3"/>
<text x="304.5" y="178.9" font-size="10" text-anchor="end" font-weight="bold">0</text>
<line x1="307.20" y1="148.90" x2="310.70" y2="148.90" stroke="#111" stroke-width="1.3"/>
<text x="304.5" y="152.3" font-size="10" text-anchor="end" font-weight="bold">20</text>
<line x1="307.20" y1="122.30" x2="310.70" y2="122.30" stroke="#111" stroke-width="1.3"/>
<text x="304.5" y="125.7" font-size="10" text-anchor="end" font-weight="bold">40</text>
<line x1="307.20" y1="95.70" x2="310.70" y2="95.70" stroke="#111" stroke-width="1.3"/>
<text x="304.5" y="99.10000000000001" font-size="10" text-anchor="end" font-weight="bold">60</text>
<line x1="307.20" y1="69.10" x2="310.70" y2="69.10" stroke="#111" stroke-width="1.3"/>
<text x="304.5" y="72.5" font-size="10" text-anchor="end" font-weight="bold">80</text>
<line x1="307.20" y1="42.50" x2="310.70" y2="42.50" stroke="#111" stroke-width="1.3"/>
<text x="304.5" y="45.9" font-size="10" text-anchor="end" font-weight="bold">100</text>
<line x1="310.70" y1="175.50" x2="310.70" y2="179.00" stroke="#111" stroke-width="1.3"/>
<text x="310.7" y="189.9" font-size="10" text-anchor="middle" font-weight="bold">0</text>
<line x1="360.70" y1="175.50" x2="360.70" y2="179.00" stroke="#111" stroke-width="1.3"/>
<text x="360.7" y="189.9" font-size="10" text-anchor="middle" font-weight="bold">100</text>
<line x1="410.70" y1="175.50" x2="410.70" y2="179.00" stroke="#111" stroke-width="1.3"/>
<text x="410.7" y="189.9" font-size="10" text-anchor="middle" font-weight="bold">200</text>
<line x1="460.70" y1="175.50" x2="460.70" y2="179.00" stroke="#111" stroke-width="1.3"/>
<text x="460.7" y="189.9" font-size="10" text-anchor="middle" font-weight="bold">300</text>
<line x1="510.70" y1="175.50" x2="510.70" y2="179.00" stroke="#111" stroke-width="1.3"/>
<text x="510.7" y="189.9" font-size="10" text-anchor="middle" font-weight="bold">400</text>
<text x="280.8" y="109" font-size="10.7" text-anchor="middle" transform="rotate(-90 280.8 109)">Percent survival</text>
<text x="411.6" y="208.8" font-size="11" text-anchor="middle" word-spacing="1">Overall survival (months)</text>
<path d="M348.2 47.3 h4.2 m2.7 0 h1.4 m1 0 h4.2" stroke="#111" stroke-width="2" fill="none"/>
<text x="371.3" y="50.8" font-size="10.5" text-anchor="start">TET1 high</text>
<line x1="437.00" y1="47.30" x2="450.00" y2="47.30" stroke="#111" stroke-width="2"/>
<text x="459.6" y="50.8" font-size="10.5" text-anchor="start">TET1 low</text>
<text x="472" y="124.2" font-size="10.6" word-spacing="-0.6"><tspan font-style="italic">P</tspan> = 0.04</text>
<path d="M310.2 41.9 V42.7 H311.6 V43.5 H313.0 V47.7 H315.4 V53.5 H317.1 V59.2 H318.8 V63.8 H320.6 V67.9 H322.3 V71.9 H324.6 V74.8 H325.8 L326.0 81.1 V86.9 H328.1 V92.7 H330.4 V97.9 H332.7 V99.6 H334.1 V101.3 H335.6 V103.3 H337.0 V105.4 H338.4 V106.2 H340.1 V107.1 H341.9 V107.9 H343.6 V108.8 H345.4 V110.5 H347.1 V112.3 H348.8 V112.9 H350.3 V113.4 H351.9 V114.0 H353.4 V114.6 H355.0 V115.1 H356.5 V115.7 H358.1 V117.2 H360.0 V118.8 H361.9 V119.5 H363.6 V120.2 H365.4 V120.9 H367.1 V121.6 H368.9 V122.0 H370.5 V122.3 H372.1 V122.7 H373.7 V123.0 H375.3 V123.4 H376.9 V123.6 H378.4 V123.7 H380.0 V123.8 H381.5 V124.0 H383.1 V124.2 H384.6 V124.3 H386.2 V125.8 H387.9 V127.3 H389.6 V127.5 H391.2 V127.8 H392.8 V128.0 H394.5 V128.3 H396.1 V128.5 H397.7 V129.7 H399.4 V130.8 H401.2 L457.3 130.8 L457.3 175.0" fill="none" stroke="#111" stroke-width="2.1" stroke-dasharray="5.8 2.8"/>
<path d="M310.2 41.9 V42.5 H311.9 V43.1 H313.7 V45.4 H315.4 V47.7 H317.1 V54.0 H319.4 V59.2 H321.1 V64.4 H323.5 V69.6 H325.8 V71.9 H327.2 V74.2 H328.6 V76.5 H330.1 V78.8 H331.5 V83.4 H333.8 V84.3 H335.2 V85.2 H336.7 V85.6 H338.1 V85.9 H339.4 V86.3 H340.8 V88.6 H343.1 V88.8 H344.8 V89.0 H346.6 V89.2 H348.3 V90.1 H349.7 V90.9 H351.1 V95.0 H353.4 V95.8 H355.1 V96.7 H356.9 V97.3 H358.6 V97.9 H360.4 V98.8 H362.3 V99.6 H364.2 L380.0 99.8 V99.8 H381.6 V99.9 H383.2 V99.9 H384.8 V100.0 H386.4 V100.0 H388.0 V100.1 H389.7 V100.1 H391.3 V100.2 H392.9 V100.2 H394.5 V100.3 H396.1 V100.3 H397.7 V101.7 H399.4 V103.1 H401.2 V103.5 H402.6 V104.0 H404.0 V104.5 H405.5 V104.9 H406.9 V106.9 H408.6 V108.9 H410.4 V110.6 H412.1 V112.3 H413.9 V119.3 H416.2 L465.4 119.3" fill="none" stroke="#111" stroke-width="2.1"/>
<text x="2.0" y="248.2" font-size="16.6" text-anchor="start" font-weight="bold">C</text>
<rect x="40" y="366" width="65" height="10.199999999999989" fill="#cbcbcb"/>
<line x1="40.30" y1="260.70" x2="40.30" y2="275.70" stroke="#111" stroke-width="1.25"/>
<line x1="40.30" y1="282.50" x2="40.30" y2="376.20" stroke="#111" stroke-width="1.25"/>
<line x1="39.20" y1="275.20" x2="42.80" y2="275.20" stroke="#111" stroke-width="1.0"/>
<line x1="37.00" y1="282.50" x2="40.90" y2="282.50" stroke="#111" stroke-width="1.0"/>
<line x1="39.50" y1="376.20" x2="108.70" y2="376.20" stroke="#111" stroke-width="1.2"/>
<line x1="37.00" y1="376.20" x2="40.00" y2="376.20" stroke="#111" stroke-width="0.9"/>
<text x="36.2" y="378.5" font-size="6.45" text-anchor="end" font-weight="bold">0.000</text>
<line x1="37.00" y1="352.80" x2="40.00" y2="352.80" stroke="#111" stroke-width="0.9"/>
<text x="36.2" y="355.1" font-size="6.45" text-anchor="end" font-weight="bold">0.005</text>
<line x1="37.00" y1="329.40" x2="40.00" y2="329.40" stroke="#111" stroke-width="0.9"/>
<text x="36.2" y="331.7" font-size="6.45" text-anchor="end" font-weight="bold">0.010</text>
<line x1="37.00" y1="306.00" x2="40.00" y2="306.00" stroke="#111" stroke-width="0.9"/>
<text x="36.2" y="308.3" font-size="6.45" text-anchor="end" font-weight="bold">0.015</text>
<line x1="37.00" y1="282.60" x2="40.00" y2="282.60" stroke="#111" stroke-width="0.9"/>
<text x="36.2" y="284.90000000000003" font-size="6.45" text-anchor="end" font-weight="bold">0.020</text>
<line x1="37.00" y1="268.00" x2="40.00" y2="268.00" stroke="#111" stroke-width="0.9"/>
<text x="36.2" y="270.3" font-size="6.5" text-anchor="end" font-weight="bold">0.03</text>
<line x1="37.00" y1="260.70" x2="40.00" y2="260.70" stroke="#111" stroke-width="0.9"/>
<text x="36.2" y="263.0" font-size="6.5" text-anchor="end" font-weight="bold">0.04</text>
<line x1="57.50" y1="376.20" x2="57.50" y2="379.20" stroke="#111" stroke-width="0.9"/>
<line x1="92.00" y1="376.20" x2="92.00" y2="379.20" stroke="#111" stroke-width="0.9"/>
<g fill="none" stroke="#111" stroke-width="0.95"><circle cx="57.8" cy="338.8" r="1.35"/><circle cx="53.5" cy="358.0" r="1.35"/><circle cx="57.8" cy="357.4" r="1.35"/><circle cx="57.8" cy="361.8" r="1.35"/><circle cx="60.4" cy="362.6" r="1.35"/><circle cx="49.6" cy="364.2" r="1.35"/><circle cx="53.5" cy="365.4" r="1.35"/><circle cx="61.9" cy="365.4" r="1.35"/><circle cx="66.2" cy="364.6" r="1.35"/><circle cx="57.8" cy="366.9" r="1.35"/><circle cx="48.8" cy="368.2" r="1.35"/><circle cx="67.3" cy="368.2" r="1.35"/><circle cx="52.7" cy="368.6" r="1.35"/><circle cx="55.8" cy="368.4" r="1.35"/><circle cx="59.6" cy="368.4" r="1.35"/><circle cx="63.5" cy="368.6" r="1.35"/><circle cx="49.4" cy="370.2" r="1.35"/><circle cx="53.5" cy="371.2" r="1.35"/><circle cx="57.8" cy="370.2" r="1.35"/><circle cx="62.1" cy="371.2" r="1.35"/><circle cx="65.8" cy="370.2" r="1.35"/><circle cx="49.6" cy="372.2" r="1.35"/><circle cx="53.5" cy="373.2" r="1.35"/><circle cx="57.7" cy="372.2" r="1.35"/><circle cx="61.7" cy="373.2" r="1.35"/><circle cx="65.7" cy="372.2" r="1.35"/><circle cx="47.3" cy="374.2" r="1.35"/><circle cx="49.2" cy="375.2" r="1.35"/><circle cx="51.5" cy="374.2" r="1.35"/><circle cx="53.1" cy="375.2" r="1.35"/><circle cx="54.8" cy="374.2" r="1.35"/><circle cx="57.0" cy="375.2" r="1.35"/><circle cx="58.9" cy="374.2" r="1.35"/><circle cx="60.5" cy="375.2" r="1.35"/><circle cx="62.1" cy="374.2" r="1.35"/><circle cx="64.0" cy="375.2" r="1.35"/><circle cx="65.8" cy="374.2" r="1.35"/><circle cx="67.8" cy="375.2" r="1.35"/><circle cx="47.3" cy="375.0" r="1.35"/><circle cx="48.5" cy="376.0" r="1.35"/><circle cx="49.8" cy="375.0" r="1.35"/><circle cx="51.1" cy="376.0" r="1.35"/><circle cx="52.5" cy="375.0" r="1.35"/><circle cx="53.6" cy="376.0" r="1.35"/><circle cx="54.6" cy="375.0" r="1.35"/><circle cx="55.8" cy="376.0" r="1.35"/><circle cx="57.1" cy="375.0" r="1.35"/><circle cx="58.2" cy="376.0" r="1.35"/><circle cx="59.4" cy="375.0" r="1.35"/><circle cx="60.4" cy="376.0" r="1.35"/><circle cx="61.8" cy="375.0" r="1.35"/><circle cx="63.4" cy="376.0" r="1.35"/><circle cx="64.1" cy="375.0" r="1.35"/><circle cx="65.5" cy="376.0" r="1.35"/><circle cx="66.8" cy="375.0" r="1.35"/><circle cx="68.1" cy="376.0" r="1.35"/><circle cx="47.3" cy="375.2" r="1.35"/><circle cx="48.8" cy="376.2" r="1.35"/><circle cx="50.3" cy="375.2" r="1.35"/><circle cx="51.8" cy="376.2" r="1.35"/><circle cx="53.3" cy="375.2" r="1.35"/><circle cx="55.1" cy="376.2" r="1.35"/><circle cx="56.5" cy="375.2" r="1.35"/><circle cx="57.9" cy="376.2" r="1.35"/><circle cx="58.9" cy="375.2" r="1.35"/><circle cx="60.3" cy="376.2" r="1.35"/><circle cx="62.2" cy="375.2" r="1.35"/><circle cx="63.8" cy="376.2" r="1.35"/><circle cx="65.0" cy="375.2" r="1.35"/><circle cx="66.5" cy="376.2" r="1.35"/><circle cx="67.6" cy="375.2" r="1.35"/></g>
<g fill="none" stroke="#111" stroke-width="0.95"><circle cx="92.0" cy="271.7" r="1.35"/><circle cx="92.0" cy="298.2" r="1.35"/><circle cx="88.0" cy="313.7" r="1.35"/><circle cx="92.0" cy="315.5" r="1.35"/><circle cx="92.0" cy="322.5" r="1.35"/><circle cx="96.2" cy="322.5" r="1.35"/><circle cx="92.0" cy="329.8" r="1.35"/><circle cx="91.9" cy="340.5" r="1.35"/><circle cx="96.2" cy="339.5" r="1.35"/><circle cx="88.1" cy="345.4" r="1.35"/><circle cx="91.9" cy="347.4" r="1.35"/><circle cx="96.2" cy="350.8" r="1.35"/><circle cx="91.9" cy="353.4" r="1.35"/><circle cx="89.6" cy="360.8" r="1.35"/><circle cx="83.9" cy="362.6" r="1.35"/><circle cx="96.5" cy="362.6" r="1.35"/><circle cx="100.4" cy="362.3" r="1.35"/><circle cx="86.5" cy="364.6" r="1.35"/><circle cx="92.7" cy="364.2" r="1.35"/><circle cx="84.0" cy="366.6" r="1.35"/><circle cx="88.5" cy="367.6" r="1.35"/><circle cx="92.5" cy="366.6" r="1.35"/><circle cx="96.6" cy="367.6" r="1.35"/><circle cx="100.8" cy="366.6" r="1.35"/><circle cx="83.9" cy="368.8" r="1.35"/><circle cx="88.0" cy="369.8" r="1.35"/><circle cx="92.1" cy="368.8" r="1.35"/><circle cx="96.4" cy="369.8" r="1.35"/><circle cx="100.6" cy="368.8" r="1.35"/><circle cx="84.4" cy="370.6" r="1.35"/><circle cx="88.3" cy="371.6" r="1.35"/><circle cx="92.4" cy="370.6" r="1.35"/><circle cx="96.6" cy="371.6" r="1.35"/><circle cx="100.5" cy="370.6" r="1.35"/><circle cx="82.1" cy="372.4" r="1.35"/><circle cx="85.9" cy="373.4" r="1.35"/><circle cx="90.4" cy="372.4" r="1.35"/><circle cx="94.2" cy="373.4" r="1.35"/><circle cx="98.7" cy="372.4" r="1.35"/><circle cx="102.6" cy="373.4" r="1.35"/><circle cx="82.0" cy="374.2" r="1.35"/><circle cx="83.7" cy="375.2" r="1.35"/><circle cx="85.7" cy="374.2" r="1.35"/><circle cx="87.7" cy="375.2" r="1.35"/><circle cx="89.6" cy="374.2" r="1.35"/><circle cx="91.1" cy="375.2" r="1.35"/><circle cx="93.0" cy="374.2" r="1.35"/><circle cx="95.1" cy="375.2" r="1.35"/><circle cx="97.0" cy="374.2" r="1.35"/><circle cx="98.7" cy="375.2" r="1.35"/><circle cx="100.5" cy="374.2" r="1.35"/><circle cx="102.6" cy="375.2" r="1.35"/><circle cx="81.8" cy="375.0" r="1.35"/><circle cx="83.2" cy="376.0" r="1.35"/><circle cx="84.5" cy="375.0" r="1.35"/><circle cx="86.0" cy="376.0" r="1.35"/><circle cx="87.0" cy="375.0" r="1.35"/><circle cx="88.3" cy="376.0" r="1.35"/><circle cx="89.3" cy="375.0" r="1.35"/><circle cx="90.3" cy="376.0" r="1.35"/><circle cx="91.5" cy="375.0" r="1.35"/><circle cx="93.2" cy="376.0" r="1.35"/><circle cx="94.2" cy="375.0" r="1.35"/><circle cx="95.2" cy="376.0" r="1.35"/><circle cx="96.2" cy="375.0" r="1.35"/><circle cx="97.7" cy="376.0" r="1.35"/><circle cx="99.0" cy="375.0" r="1.35"/><circle cx="100.1" cy="376.0" r="1.35"/><circle cx="101.2" cy="375.0" r="1.35"/><circle cx="102.6" cy="376.0" r="1.35"/><circle cx="82.4" cy="375.2" r="1.35"/><circle cx="83.4" cy="376.2" r="1.35"/><circle cx="84.7" cy="375.2" r="1.35"/><circle cx="86.4" cy="376.2" r="1.35"/><circle cx="87.9" cy="375.2" r="1.35"/><circle cx="89.5" cy="376.2" r="1.35"/><circle cx="90.7" cy="375.2" r="1.35"/><circle cx="92.5" cy="376.2" r="1.35"/><circle cx="93.9" cy="375.2" r="1.35"/><circle cx="95.2" cy="376.2" r="1.35"/><circle cx="96.5" cy="375.2" r="1.35"/><circle cx="98.4" cy="376.2" r="1.35"/><circle cx="99.5" cy="375.2" r="1.35"/><circle cx="101.2" cy="376.2" r="1.35"/><circle cx="102.3" cy="375.2" r="1.35"/></g>
<line x1="47.50" y1="372.80" x2="67.50" y2="372.80" stroke="#c4c4c4" stroke-width="1.0"/>
<line x1="82.00" y1="365.80" x2="102.00" y2="365.80" stroke="#c4c4c4" stroke-width="1.0"/>
<text x="44.5" y="248" font-size="10.8" word-spacing="1.8">TET1 Exon 1</text>
<text x="92" y="264.4" font-size="13.8" text-anchor="middle">***</text>
<text x="11" y="317.6" font-size="10.5" text-anchor="middle" transform="rotate(-90 11 317.6)" word-spacing="1.8">Normalized reads</text>
<text x="57.5" y="384.9" font-size="10.6" text-anchor="end" transform="rotate(-53.5 57.5 384.9)">Normal</text>
<text x="66.6" y="392.7" font-size="10.6" text-anchor="end" transform="rotate(-53.5 66.6 392.7)">breast</text>
<text x="96" y="389.7" font-size="10.7" text-anchor="end" transform="rotate(-53.5 96 389.7)">TNBC</text>
<rect x="157" y="360.6" width="70.5" height="15.599999999999966" fill="#cbcbcb"/>
<line x1="157.30" y1="260.70" x2="157.30" y2="275.70" stroke="#111" stroke-width="1.25"/>
<line x1="157.30" y1="282.50" x2="157.30" y2="376.20" stroke="#111" stroke-width="1.25"/>
<line x1="156.20" y1="275.20" x2="159.80" y2="275.20" stroke="#111" stroke-width="1.0"/>
<line x1="154.00" y1="282.50" x2="157.90" y2="282.50" stroke="#111" stroke-width="1.0"/>
<line x1="156.50" y1="376.20" x2="231.00" y2="376.20" stroke="#111" stroke-width="1.2"/>
<line x1="154.00" y1="376.20" x2="157.00" y2="376.20" stroke="#111" stroke-width="0.9"/>
<text x="153.2" y="378.5" font-size="6.45" text-anchor="end" font-weight="bold">0.000</text>
<line x1="154.00" y1="352.80" x2="157.00" y2="352.80" stroke="#111" stroke-width="0.9"/>
<text x="153.2" y="355.1" font-size="6.45" text-anchor="end" font-weight="bold">0.005</text>
<line x1="154.00" y1="329.40" x2="157.00" y2="329.40" stroke="#111" stroke-width="0.9"/>
<text x="153.2" y="331.7" font-size="6.45" text-anchor="end" font-weight="bold">0.010</text>
<line x1="154.00" y1="306.00" x2="157.00" y2="306.00" stroke="#111" stroke-width="0.9"/>
<text x="153.2" y="308.3" font-size="6.45" text-anchor="end" font-weight="bold">0.015</text>
<line x1="154.00" y1="282.60" x2="157.00" y2="282.60" stroke="#111" stroke-width="0.9"/>
<text x="153.2" y="284.90000000000003" font-size="6.45" text-anchor="end" font-weight="bold">0.020</text>
<line x1="154.00" y1="268.00" x2="157.00" y2="268.00" stroke="#111" stroke-width="0.9"/>
<text x="153.2" y="270.3" font-size="6.5" text-anchor="end" font-weight="bold">0.03</text>
<line x1="154.00" y1="260.70" x2="157.00" y2="260.70" stroke="#111" stroke-width="0.9"/>
<text x="153.2" y="263.0" font-size="6.5" text-anchor="end" font-weight="bold">0.04</text>
<line x1="174.50" y1="376.20" x2="174.50" y2="379.20" stroke="#111" stroke-width="0.9"/>
<line x1="213.70" y1="376.20" x2="213.70" y2="379.20" stroke="#111" stroke-width="0.9"/>
<g fill="none" stroke="#111" stroke-width="0.95"><circle cx="171.2" cy="346.6" r="1.35"/><circle cx="167.4" cy="350.3" r="1.35"/><circle cx="175.4" cy="349.2" r="1.35"/><circle cx="179.4" cy="348.2" r="1.35"/><circle cx="171.2" cy="353.8" r="1.35"/><circle cx="175.4" cy="353.8" r="1.35"/><circle cx="179.4" cy="353.8" r="1.35"/><circle cx="166.5" cy="355.8" r="1.35"/><circle cx="171.0" cy="356.8" r="1.35"/><circle cx="174.8" cy="355.8" r="1.35"/><circle cx="179.3" cy="356.8" r="1.35"/><circle cx="183.1" cy="355.8" r="1.35"/><circle cx="164.5" cy="358.1" r="1.35"/><circle cx="168.6" cy="359.1" r="1.35"/><circle cx="172.8" cy="358.1" r="1.35"/><circle cx="177.0" cy="359.1" r="1.35"/><circle cx="181.3" cy="358.1" r="1.35"/><circle cx="184.9" cy="359.1" r="1.35"/><circle cx="164.6" cy="360.4" r="1.35"/><circle cx="168.6" cy="361.4" r="1.35"/><circle cx="173.1" cy="360.4" r="1.35"/><circle cx="176.7" cy="361.4" r="1.35"/><circle cx="180.8" cy="360.4" r="1.35"/><circle cx="184.9" cy="361.4" r="1.35"/><circle cx="163.6" cy="362.7" r="1.35"/><circle cx="167.7" cy="363.7" r="1.35"/><circle cx="171.4" cy="362.7" r="1.35"/><circle cx="175.0" cy="363.7" r="1.35"/><circle cx="178.9" cy="362.7" r="1.35"/><circle cx="182.6" cy="363.7" r="1.35"/><circle cx="186.0" cy="362.7" r="1.35"/><circle cx="163.5" cy="365.3" r="1.35"/><circle cx="167.7" cy="366.3" r="1.35"/><circle cx="171.3" cy="365.3" r="1.35"/><circle cx="174.6" cy="366.3" r="1.35"/><circle cx="178.7" cy="365.3" r="1.35"/><circle cx="182.3" cy="366.3" r="1.35"/><circle cx="186.0" cy="365.3" r="1.35"/><circle cx="164.5" cy="367.6" r="1.35"/><circle cx="168.6" cy="368.6" r="1.35"/><circle cx="172.6" cy="367.6" r="1.35"/><circle cx="176.8" cy="368.6" r="1.35"/><circle cx="181.0" cy="367.6" r="1.35"/><circle cx="185.4" cy="368.6" r="1.35"/><circle cx="163.5" cy="369.9" r="1.35"/><circle cx="167.7" cy="370.9" r="1.35"/><circle cx="171.0" cy="369.9" r="1.35"/><circle cx="174.8" cy="370.9" r="1.35"/><circle cx="178.8" cy="369.9" r="1.35"/><circle cx="182.6" cy="370.9" r="1.35"/><circle cx="186.1" cy="369.9" r="1.35"/><circle cx="163.4" cy="372.2" r="1.35"/><circle cx="166.9" cy="373.2" r="1.35"/><circle cx="170.0" cy="372.2" r="1.35"/><circle cx="173.6" cy="373.2" r="1.35"/><circle cx="176.3" cy="372.2" r="1.35"/><circle cx="179.6" cy="373.2" r="1.35"/><circle cx="183.1" cy="372.2" r="1.35"/><circle cx="185.8" cy="373.2" r="1.35"/><circle cx="163.6" cy="373.9" r="1.35"/><circle cx="166.7" cy="374.9" r="1.35"/><circle cx="169.5" cy="373.9" r="1.35"/><circle cx="171.8" cy="374.9" r="1.35"/><circle cx="174.6" cy="373.9" r="1.35"/><circle cx="177.4" cy="374.9" r="1.35"/><circle cx="180.8" cy="373.9" r="1.35"/><circle cx="183.2" cy="374.9" r="1.35"/><circle cx="186.2" cy="373.9" r="1.35"/><circle cx="163.9" cy="375.0" r="1.35"/><circle cx="165.2" cy="376.0" r="1.35"/><circle cx="166.8" cy="375.0" r="1.35"/><circle cx="168.8" cy="376.0" r="1.35"/><circle cx="170.2" cy="375.0" r="1.35"/><circle cx="171.6" cy="376.0" r="1.35"/><circle cx="173.4" cy="375.0" r="1.35"/><circle cx="174.8" cy="376.0" r="1.35"/><circle cx="176.4" cy="375.0" r="1.35"/><circle cx="177.8" cy="376.0" r="1.35"/><circle cx="179.9" cy="375.0" r="1.35"/><circle cx="181.5" cy="376.0" r="1.35"/><circle cx="183.0" cy="375.0" r="1.35"/><circle cx="184.8" cy="376.0" r="1.35"/><circle cx="185.8" cy="375.0" r="1.35"/><circle cx="163.5" cy="375.2" r="1.35"/><circle cx="165.7" cy="376.2" r="1.35"/><circle cx="168.0" cy="375.2" r="1.35"/><circle cx="170.1" cy="376.2" r="1.35"/><circle cx="171.8" cy="375.2" r="1.35"/><circle cx="173.7" cy="376.2" r="1.35"/><circle cx="175.9" cy="375.2" r="1.35"/><circle cx="178.0" cy="376.2" r="1.35"/><circle cx="180.2" cy="375.2" r="1.35"/><circle cx="181.8" cy="376.2" r="1.35"/><circle cx="184.2" cy="375.2" r="1.35"/><circle cx="186.2" cy="376.2" r="1.35"/></g>
<g fill="none" stroke="#111" stroke-width="0.95"><circle cx="213.3" cy="263.7" r="1.35"/><circle cx="213.3" cy="310.7" r="1.35"/><circle cx="217.0" cy="310.7" r="1.35"/><circle cx="209.5" cy="319.2" r="1.35"/><circle cx="213.3" cy="321.5" r="1.35"/><circle cx="209.5" cy="333.0" r="1.35"/><circle cx="213.3" cy="335.4" r="1.35"/><circle cx="217.5" cy="333.0" r="1.35"/><circle cx="213.2" cy="340.5" r="1.35"/><circle cx="215.0" cy="343.5" r="1.35"/><circle cx="205.1" cy="344.9" r="1.35"/><circle cx="209.2" cy="345.4" r="1.35"/><circle cx="217.4" cy="345.1" r="1.35"/><circle cx="221.5" cy="345.4" r="1.35"/><circle cx="211.2" cy="348.2" r="1.35"/><circle cx="215.1" cy="347.7" r="1.35"/><circle cx="219.7" cy="348.5" r="1.35"/><circle cx="222.0" cy="348.8" r="1.35"/><circle cx="205.1" cy="350.3" r="1.35"/><circle cx="209.2" cy="351.5" r="1.35"/><circle cx="213.5" cy="352.3" r="1.35"/><circle cx="217.4" cy="351.2" r="1.35"/><circle cx="205.1" cy="355.0" r="1.35"/><circle cx="209.7" cy="357.4" r="1.35"/><circle cx="222.0" cy="356.2" r="1.35"/><circle cx="202.8" cy="359.2" r="1.35"/><circle cx="207.0" cy="359.5" r="1.35"/><circle cx="212.0" cy="359.0" r="1.35"/><circle cx="216.5" cy="359.5" r="1.35"/><circle cx="220.5" cy="359.2" r="1.35"/><circle cx="224.3" cy="359.2" r="1.35"/><circle cx="203.2" cy="361.2" r="1.35"/><circle cx="207.3" cy="362.2" r="1.35"/><circle cx="211.3" cy="361.2" r="1.35"/><circle cx="215.2" cy="362.2" r="1.35"/><circle cx="219.3" cy="361.2" r="1.35"/><circle cx="223.5" cy="362.2" r="1.35"/><circle cx="203.2" cy="363.5" r="1.35"/><circle cx="206.9" cy="364.5" r="1.35"/><circle cx="211.1" cy="363.5" r="1.35"/><circle cx="215.5" cy="364.5" r="1.35"/><circle cx="219.3" cy="363.5" r="1.35"/><circle cx="223.3" cy="364.5" r="1.35"/><circle cx="202.0" cy="365.8" r="1.35"/><circle cx="206.0" cy="366.8" r="1.35"/><circle cx="209.5" cy="365.8" r="1.35"/><circle cx="213.6" cy="366.8" r="1.35"/><circle cx="217.2" cy="365.8" r="1.35"/><circle cx="220.9" cy="366.8" r="1.35"/><circle cx="224.2" cy="365.8" r="1.35"/><circle cx="202.1" cy="368.1" r="1.35"/><circle cx="205.7" cy="369.1" r="1.35"/><circle cx="209.6" cy="368.1" r="1.35"/><circle cx="213.4" cy="369.1" r="1.35"/><circle cx="216.9" cy="368.1" r="1.35"/><circle cx="220.5" cy="369.1" r="1.35"/><circle cx="224.3" cy="368.1" r="1.35"/><circle cx="202.4" cy="370.3" r="1.35"/><circle cx="205.5" cy="371.3" r="1.35"/><circle cx="208.7" cy="370.3" r="1.35"/><circle cx="211.9" cy="371.3" r="1.35"/><circle cx="215.0" cy="370.3" r="1.35"/><circle cx="217.8" cy="371.3" r="1.35"/><circle cx="221.4" cy="370.3" r="1.35"/><circle cx="224.2" cy="371.3" r="1.35"/><circle cx="202.3" cy="372.4" r="1.35"/><circle cx="205.0" cy="373.4" r="1.35"/><circle cx="207.9" cy="372.4" r="1.35"/><circle cx="210.4" cy="373.4" r="1.35"/><circle cx="213.1" cy="372.4" r="1.35"/><circle cx="215.9" cy="373.4" r="1.35"/><circle cx="218.6" cy="372.4" r="1.35"/><circle cx="221.8" cy="373.4" r="1.35"/><circle cx="224.3" cy="372.4" r="1.35"/><circle cx="202.2" cy="374.1" r="1.35"/><circle cx="204.7" cy="375.1" r="1.35"/><circle cx="207.5" cy="374.1" r="1.35"/><circle cx="209.6" cy="375.1" r="1.35"/><circle cx="211.9" cy="374.1" r="1.35"/><circle cx="214.7" cy="375.1" r="1.35"/><circle cx="217.1" cy="374.1" r="1.35"/><circle cx="219.7" cy="375.1" r="1.35"/><circle cx="221.6" cy="374.1" r="1.35"/><circle cx="224.3" cy="375.1" r="1.35"/><circle cx="202.5" cy="375.1" r="1.35"/><circle cx="204.2" cy="376.1" r="1.35"/><circle cx="205.9" cy="375.1" r="1.35"/><circle cx="207.1" cy="376.1" r="1.35"/><circle cx="208.9" cy="375.1" r="1.35"/><circle cx="210.5" cy="376.1" r="1.35"/><circle cx="212.3" cy="375.1" r="1.35"/><circle cx="214.4" cy="376.1" r="1.35"/><circle cx="215.9" cy="375.1" r="1.35"/><circle cx="217.8" cy="376.1" r="1.35"/><circle cx="219.1" cy="375.1" r="1.35"/><circle cx="221.1" cy="376.1" r="1.35"/><circle cx="222.6" cy="375.1" r="1.35"/><circle cx="224.2" cy="376.1" r="1.35"/><circle cx="215.0" cy="374.3" r="1.35"/><circle cx="210.9" cy="370.2" r="1.35"/><circle cx="214.0" cy="365.6" r="1.35"/><circle cx="212.5" cy="364.7" r="1.35"/><circle cx="211.5" cy="366.1" r="1.35"/><circle cx="213.9" cy="370.8" r="1.35"/><circle cx="211.5" cy="363.1" r="1.35"/><circle cx="212.3" cy="371.1" r="1.35"/><circle cx="211.4" cy="366.7" r="1.35"/><circle cx="211.5" cy="372.5" r="1.35"/><circle cx="213.6" cy="363.8" r="1.35"/><circle cx="210.9" cy="367.7" r="1.35"/><circle cx="213.6" cy="370.7" r="1.35"/><circle cx="210.8" cy="365.0" r="1.35"/><circle cx="214.5" cy="367.9" r="1.35"/><circle cx="212.0" cy="366.7" r="1.35"/><circle cx="216.0" cy="366.7" r="1.35"/><circle cx="213.7" cy="367.3" r="1.35"/><circle cx="212.8" cy="373.4" r="1.35"/><circle cx="216.3" cy="367.4" r="1.35"/><circle cx="211.5" cy="371.7" r="1.35"/><circle cx="211.5" cy="363.1" r="1.35"/></g>
<line x1="164.50" y1="366.80" x2="184.50" y2="366.80" stroke="#c4c4c4" stroke-width="1.0"/>
<line x1="203.70" y1="360.60" x2="223.70" y2="360.60" stroke="#c4c4c4" stroke-width="1.0"/>
<text x="157.5" y="248" font-size="10.8">TET1<tspan font-size="7.2" dy="-4">ALT</tspan><tspan dy="4" dx="6.5">Exons</tspan></text>
<text x="213.2" y="264.4" font-size="13.8" text-anchor="middle">**</text>
<text x="128" y="317.6" font-size="10.5" text-anchor="middle" transform="rotate(-90 128 317.6)" word-spacing="1.8">Normalized reads</text>
<text x="174.5" y="384.9" font-size="10.6" text-anchor="end" transform="rotate(-53.5 174.5 384.9)">Normal</text>
<text x="183.6" y="392.7" font-size="10.6" text-anchor="end" transform="rotate(-53.5 183.6 392.7)">breast</text>
<text x="217.7" y="389.7" font-size="10.7" text-anchor="end" transform="rotate(-53.5 217.7 389.7)">TNBC</text>
<text x="256.5" y="245.3" font-size="16" text-anchor="start" font-weight="bold">D</text>
<line x1="314.90" y1="241.50" x2="314.90" y2="368.40" stroke="#111" stroke-width="1.3"/>
<line x1="314.30" y1="367.80" x2="503.50" y2="367.80" stroke="#111" stroke-width="1.3"/>
<line x1="311.40" y1="367.80" x2="314.90" y2="367.80" stroke="#111" stroke-width="1.1"/>
<text x="308.7" y="370.8" font-size="9.0" text-anchor="end" font-weight="bold">0.000</text>
<line x1="314.90" y1="367.80" x2="314.90" y2="371.30" stroke="#111" stroke-width="1.1"/>
<text x="314.9" y="380.8" font-size="8.4" text-anchor="middle" font-weight="bold">0.000</text>
<line x1="311.40" y1="336.38" x2="314.90" y2="336.38" stroke="#111" stroke-width="1.1"/>
<text x="308.7" y="339.38" font-size="9.0" text-anchor="end" font-weight="bold">0.005</text>
<line x1="362.05" y1="367.80" x2="362.05" y2="371.30" stroke="#111" stroke-width="1.1"/>
<text x="362.04999999999995" y="380.8" font-size="8.4" text-anchor="middle" font-weight="bold">0.005</text>
<line x1="311.40" y1="304.96" x2="314.90" y2="304.96" stroke="#111" stroke-width="1.1"/>
<text x="308.7" y="307.96000000000004" font-size="9.0" text-anchor="end" font-weight="bold">0.010</text>
<line x1="409.20" y1="367.80" x2="409.20" y2="371.30" stroke="#111" stroke-width="1.1"/>
<text x="409.2" y="380.8" font-size="8.4" text-anchor="middle" font-weight="bold">0.010</text>
<line x1="311.40" y1="273.54" x2="314.90" y2="273.54" stroke="#111" stroke-width="1.1"/>
<text x="308.7" y="276.54" font-size="9.0" text-anchor="end" font-weight="bold">0.015</text>
<line x1="456.35" y1="367.80" x2="456.35" y2="371.30" stroke="#111" stroke-width="1.1"/>
<text x="456.34999999999997" y="380.8" font-size="8.4" text-anchor="middle" font-weight="bold">0.015</text>
<line x1="311.40" y1="242.12" x2="314.90" y2="242.12" stroke="#111" stroke-width="1.1"/>
<text x="308.7" y="245.12" font-size="9.0" text-anchor="end" font-weight="bold">0.020</text>
<line x1="503.50" y1="367.80" x2="503.50" y2="371.30" stroke="#111" stroke-width="1.1"/>
<text x="503.5" y="380.8" font-size="8.4" text-anchor="middle" font-weight="bold">0.020</text>
<text x="272.6" y="310.8" font-size="10.8" text-anchor="middle" transform="rotate(-90 272.6 310.8)">TET1 Exon 1 reads</text>
<text x="407.6" y="399.8" font-size="11.3" text-anchor="middle">TET1<tspan font-size="7.2" dy="-4">ALT</tspan><tspan dy="4" dx="5">Exon reads</tspan></text>
<path d="M314.9 275 H354.6 V349" fill="none" stroke="#111" stroke-width="1.35" stroke-dasharray="7.6 3.8"/>
<path d="M314.9 349 H354.6 M354.6 347.4 H469.3 V367.8" fill="none" stroke="#111" stroke-width="1.35" stroke-dasharray="7.6 3.8"/>
<ellipse cx="405.2" cy="298.7" rx="56" ry="31.5" transform="rotate(-42 405.2 298.7)" fill="none" stroke="#222" stroke-width="1.0" stroke-dasharray="2.8 1.8"/>
<line x1="316.00" y1="367.40" x2="504.00" y2="284.90" stroke="#111" stroke-width="1.6"/>
<g fill="#111"><circle cx="401.7" cy="263.4" r="2.85"/><circle cx="396.7" cy="284.0" r="2.85"/><circle cx="445.8" cy="286.3" r="2.85"/><circle cx="375.5" cy="296.1" r="2.85"/><circle cx="428.8" cy="305.3" r="2.85"/><circle cx="364.7" cy="328.8" r="2.85"/><circle cx="377.1" cy="326.5" r="2.85"/><circle cx="370.3" cy="333.0" r="2.85"/><circle cx="375.5" cy="337.0" r="2.85"/><circle cx="423.6" cy="349.4" r="2.85"/><circle cx="444.5" cy="349.7" r="2.85"/><circle cx="400.7" cy="356.3" r="2.85"/><circle cx="354.9" cy="349.4" r="2.85"/><circle cx="356.5" cy="359.2" r="2.85"/><circle cx="362.4" cy="361.8" r="2.85"/><circle cx="374.5" cy="357.6" r="2.85"/><circle cx="379.4" cy="359.2" r="2.85"/><circle cx="385.3" cy="360.9" r="2.85"/><circle cx="364.7" cy="365.8" r="2.85"/><circle cx="370.3" cy="365.8" r="2.85"/><circle cx="341.2" cy="346.9" r="2.85"/><circle cx="332.7" cy="349.2" r="2.85"/><circle cx="330.4" cy="353.1" r="2.85"/><circle cx="348.1" cy="350.8" r="2.85"/><circle cx="341.9" cy="356.2" r="2.85"/><circle cx="317.3" cy="352.3" r="2.85"/><circle cx="315.0" cy="356.2" r="2.85"/><circle cx="325.8" cy="357.7" r="2.85"/><circle cx="320.4" cy="360.0" r="2.85"/><circle cx="315.8" cy="360.8" r="2.85"/><circle cx="323.5" cy="362.3" r="2.85"/><circle cx="341.2" cy="363.1" r="2.85"/><circle cx="350.4" cy="363.8" r="2.85"/><circle cx="361.9" cy="365.4" r="2.85"/><circle cx="366.5" cy="365.8" r="2.85"/><circle cx="349.6" cy="366.2" r="2.85"/><circle cx="352.7" cy="365.4" r="2.85"/><circle cx="337.3" cy="365.4" r="2.85"/><circle cx="325.3" cy="296.0" r="2.85"/><circle cx="318.5" cy="317.5" r="2.85"/><circle cx="335.5" cy="318.5" r="2.85"/><circle cx="323.6" cy="365.5" r="2.85"/><circle cx="319.4" cy="364.5" r="2.85"/><circle cx="323.2" cy="365.1" r="2.85"/><circle cx="315.9" cy="366.9" r="2.85"/><circle cx="328.6" cy="365.9" r="2.85"/><circle cx="318.6" cy="366.6" r="2.85"/><circle cx="321.9" cy="365.3" r="2.85"/><circle cx="320.6" cy="367.3" r="2.85"/><circle cx="317.5" cy="363.7" r="2.85"/><circle cx="319.3" cy="366.7" r="2.85"/><circle cx="333.0" cy="367.0" r="2.85"/><circle cx="321.5" cy="366.9" r="2.85"/><circle cx="331.8" cy="362.2" r="2.85"/><circle cx="326.3" cy="366.8" r="2.85"/><circle cx="336.6" cy="365.0" r="2.85"/><circle cx="331.5" cy="363.1" r="2.85"/><circle cx="328.6" cy="363.5" r="2.85"/><circle cx="324.4" cy="362.8" r="2.85"/><circle cx="316.8" cy="364.3" r="2.85"/><circle cx="325.7" cy="362.7" r="2.85"/><circle cx="317.9" cy="365.4" r="2.85"/><circle cx="324.8" cy="365.2" r="2.85"/><circle cx="318.8" cy="366.3" r="2.85"/><circle cx="315.3" cy="362.5" r="2.85"/><circle cx="317.3" cy="366.8" r="2.85"/><circle cx="330.6" cy="365.4" r="2.85"/><circle cx="333.5" cy="365.9" r="2.85"/><circle cx="325.0" cy="364.6" r="2.85"/><circle cx="328.4" cy="366.0" r="2.85"/><circle cx="318.6" cy="364.4" r="2.85"/><circle cx="324.1" cy="365.7" r="2.85"/><circle cx="320.9" cy="364.6" r="2.85"/><circle cx="317.0" cy="367.1" r="2.85"/><circle cx="323.5" cy="364.9" r="2.85"/><circle cx="316.6" cy="362.2" r="2.85"/><circle cx="317.1" cy="364.0" r="2.85"/><circle cx="319.8" cy="364.2" r="2.85"/><circle cx="319.1" cy="366.3" r="2.85"/><circle cx="319.0" cy="366.7" r="2.85"/><circle cx="326.2" cy="366.0" r="2.85"/><circle cx="328.8" cy="366.2" r="2.85"/><circle cx="329.1" cy="364.9" r="2.85"/><circle cx="317.1" cy="363.8" r="2.85"/><circle cx="326.2" cy="366.1" r="2.85"/><circle cx="332.7" cy="362.2" r="2.85"/><circle cx="327.9" cy="362.8" r="2.85"/><circle cx="331.2" cy="367.2" r="2.85"/><circle cx="317.6" cy="365.5" r="2.85"/><circle cx="326.6" cy="366.9" r="2.85"/><circle cx="336.4" cy="365.5" r="2.85"/><circle cx="324.0" cy="362.7" r="2.85"/><circle cx="318.3" cy="366.8" r="2.85"/><circle cx="325.0" cy="363.2" r="2.85"/><circle cx="326.6" cy="361.9" r="2.85"/><circle cx="317.9" cy="361.9" r="2.85"/><circle cx="322.3" cy="364.5" r="2.85"/><circle cx="321.0" cy="366.3" r="2.85"/><circle cx="316.0" cy="363.7" r="2.85"/><circle cx="316.2" cy="366.6" r="2.85"/><circle cx="317.5" cy="365.7" r="2.85"/><circle cx="317.2" cy="353.6" r="2.85"/><circle cx="316.2" cy="364.5" r="2.85"/><circle cx="315.6" cy="359.0" r="2.85"/><circle cx="316.1" cy="357.5" r="2.85"/><circle cx="317.1" cy="358.7" r="2.85"/><circle cx="317.4" cy="358.3" r="2.85"/><circle cx="315.9" cy="352.1" r="2.85"/><circle cx="315.9" cy="357.6" r="2.85"/><circle cx="317.2" cy="363.0" r="2.85"/><circle cx="316.8" cy="352.1" r="2.85"/><circle cx="339.0" cy="365.8" r="2.85"/><circle cx="340.4" cy="365.6" r="2.85"/><circle cx="336.2" cy="365.0" r="2.85"/><circle cx="335.3" cy="364.9" r="2.85"/><circle cx="336.8" cy="365.2" r="2.85"/><circle cx="341.9" cy="365.3" r="2.85"/></g>
<text x="463.7" y="315" font-size="10.7" text-anchor="start">Slope=0.53</text>
<text x="9.5" y="446.5" font-size="16.8" text-anchor="start" font-weight="bold">E</text>
<text x="147.5" y="447.2" font-size="12.8" text-anchor="middle" text-decoration="underline">Triple negative</text>
<line x1="58.00" y1="470.75" x2="58.00" y2="592.00" stroke="#222" stroke-width="1.1"/>
<line x1="57.50" y1="591.50" x2="242.50" y2="591.50" stroke="#222" stroke-width="1.1"/>
<line x1="55.00" y1="591.50" x2="58.00" y2="591.50" stroke="#222" stroke-width="0.9"/>
<text x="53.5" y="594.1" font-size="7.3" text-anchor="end">0</text>
<line x1="55.00" y1="567.35" x2="58.00" y2="567.35" stroke="#222" stroke-width="0.9"/>
<text x="53.5" y="569.95" font-size="7.3" text-anchor="end">1,000</text>
<line x1="55.00" y1="543.20" x2="58.00" y2="543.20" stroke="#222" stroke-width="0.9"/>
<text x="53.5" y="545.8000000000001" font-size="7.3" text-anchor="end">2,000</text>
<line x1="55.00" y1="519.05" x2="58.00" y2="519.05" stroke="#222" stroke-width="0.9"/>
<text x="53.5" y="521.65" font-size="7.3" text-anchor="end">3,000</text>
<line x1="55.00" y1="494.90" x2="58.00" y2="494.90" stroke="#222" stroke-width="0.9"/>
<text x="53.5" y="497.5" font-size="7.3" text-anchor="end">4,000</text>
<line x1="55.00" y1="470.75" x2="58.00" y2="470.75" stroke="#222" stroke-width="0.9"/>
<text x="53.5" y="473.35" font-size="7.3" text-anchor="end">5,000</text>
<line x1="58.00" y1="591.50" x2="58.00" y2="594.50" stroke="#222" stroke-width="0.9"/>
<text x="58.0" y="601.5" font-size="7.3" text-anchor="middle">-5</text>
<line x1="104.00" y1="591.50" x2="104.00" y2="594.50" stroke="#222" stroke-width="0.9"/>
<text x="104.0" y="601.5" font-size="7.3" text-anchor="middle">0</text>
<line x1="150.00" y1="591.50" x2="150.00" y2="594.50" stroke="#222" stroke-width="0.9"/>
<text x="150.0" y="601.5" font-size="7.3" text-anchor="middle">5</text>
<line x1="196.00" y1="591.50" x2="196.00" y2="594.50" stroke="#222" stroke-width="0.9"/>
<text x="196.0" y="601.5" font-size="7.3" text-anchor="middle">10</text>
<line x1="242.00" y1="591.50" x2="242.00" y2="594.50" stroke="#222" stroke-width="0.9"/>
<text x="242.0" y="601.5" font-size="7.3" text-anchor="middle">15</text>
<text x="153.8" y="617" font-size="11" text-anchor="middle" word-spacing="0.5">TET1 Expression (Z Score)</text>
<text x="22" y="532.5" font-size="11.15" text-anchor="middle" transform="rotate(-90 22 532.5)"># Of sites that lose methylation</text>
<text x="85" y="471" font-size="10.8">Spearman<tspan dx="8" font-style="italic">r</tspan> = 0.33<tspan dx="11" font-style="italic">P</tspan><tspan dx="2.2">=</tspan><tspan dx="2.2">0.001</tspan></text>
<g fill="#111"><circle cx="138.3" cy="499.0" r="1.35"/><circle cx="93.4" cy="515.4" r="1.35"/><circle cx="226.0" cy="518.4" r="1.35"/><circle cx="215.8" cy="524.6" r="1.35"/><circle cx="190.9" cy="525.7" r="1.35"/><circle cx="176.7" cy="532.2" r="1.35"/><circle cx="114.6" cy="533.0" r="1.35"/><circle cx="93.4" cy="536.6" r="1.35"/><circle cx="113.5" cy="537.7" r="1.35"/><circle cx="116.0" cy="537.7" r="1.35"/><circle cx="129.2" cy="537.7" r="1.35"/><circle cx="109.8" cy="541.4" r="1.35"/><circle cx="115.3" cy="545.8" r="1.35"/><circle cx="98.1" cy="545.8" r="1.35"/><circle cx="100.7" cy="546.5" r="1.35"/><circle cx="202.2" cy="545.8" r="1.35"/><circle cx="163.5" cy="550.1" r="1.35"/><circle cx="99.6" cy="552.0" r="1.35"/><circle cx="106.2" cy="553.1" r="1.35"/><circle cx="112.7" cy="554.2" r="1.35"/><circle cx="116.4" cy="557.5" r="1.35"/><circle cx="184.7" cy="555.6" r="1.35"/><circle cx="88.6" cy="556.7" r="1.35"/><circle cx="128.1" cy="557.8" r="1.35"/><circle cx="160.2" cy="556.7" r="1.35"/><circle cx="92.3" cy="559.6" r="1.35"/><circle cx="104.3" cy="561.1" r="1.35"/><circle cx="94.5" cy="563.3" r="1.35"/><circle cx="117.1" cy="562.2" r="1.35"/><circle cx="118.9" cy="562.2" r="1.35"/><circle cx="133.6" cy="562.2" r="1.35"/><circle cx="148.2" cy="562.9" r="1.35"/><circle cx="158.4" cy="564.8" r="1.35"/><circle cx="110.5" cy="565.9" r="1.35"/><circle cx="97.0" cy="567.7" r="1.35"/><circle cx="99.6" cy="568.4" r="1.35"/><circle cx="142.0" cy="567.7" r="1.35"/><circle cx="217.6" cy="567.7" r="1.35"/><circle cx="91.5" cy="569.5" r="1.35"/><circle cx="93.4" cy="571.3" r="1.35"/><circle cx="102.5" cy="569.5" r="1.35"/><circle cx="108.0" cy="571.3" r="1.35"/><circle cx="126.2" cy="569.5" r="1.35"/><circle cx="134.6" cy="572.1" r="1.35"/><circle cx="145.6" cy="571.3" r="1.35"/><circle cx="88.6" cy="575.7" r="1.35"/><circle cx="91.5" cy="575.7" r="1.35"/><circle cx="94.5" cy="574.3" r="1.35"/><circle cx="98.1" cy="575.7" r="1.35"/><circle cx="104.3" cy="574.3" r="1.35"/><circle cx="113.5" cy="574.3" r="1.35"/><circle cx="118.9" cy="575.7" r="1.35"/><circle cx="122.6" cy="574.3" r="1.35"/><circle cx="126.2" cy="575.7" r="1.35"/><circle cx="89.7" cy="578.6" r="1.35"/><circle cx="91.5" cy="579.4" r="1.35"/><circle cx="95.9" cy="578.6" r="1.35"/><circle cx="101.8" cy="578.6" r="1.35"/><circle cx="106.2" cy="579.4" r="1.35"/><circle cx="111.6" cy="580.5" r="1.35"/><circle cx="117.1" cy="580.5" r="1.35"/><circle cx="120.8" cy="579.4" r="1.35"/><circle cx="144.5" cy="581.2" r="1.35"/><circle cx="150.7" cy="581.6" r="1.35"/><circle cx="98.8" cy="584.1" r="1.35"/><circle cx="102.5" cy="586.0" r="1.35"/><circle cx="90.4" cy="583.0" r="1.35"/><circle cx="91.5" cy="589.6" r="1.35"/><circle cx="102.5" cy="588.5" r="1.35"/><circle cx="124.4" cy="588.5" r="1.35"/><circle cx="108.0" cy="582.3" r="1.35"/><circle cx="114.8" cy="567.1" r="1.35"/><circle cx="88.7" cy="559.5" r="1.35"/><circle cx="94.5" cy="575.4" r="1.35"/><circle cx="105.7" cy="572.6" r="1.35"/><circle cx="124.0" cy="562.2" r="1.35"/><circle cx="97.6" cy="576.4" r="1.35"/><circle cx="89.5" cy="558.6" r="1.35"/><circle cx="102.6" cy="561.5" r="1.35"/><circle cx="102.7" cy="564.7" r="1.35"/><circle cx="111.6" cy="574.7" r="1.35"/><circle cx="96.7" cy="575.7" r="1.35"/><circle cx="107.4" cy="562.2" r="1.35"/><circle cx="125.6" cy="565.2" r="1.35"/><circle cx="94.5" cy="561.2" r="1.35"/><circle cx="113.8" cy="582.4" r="1.35"/><circle cx="119.5" cy="569.6" r="1.35"/><circle cx="99.0" cy="558.9" r="1.35"/><circle cx="114.1" cy="574.0" r="1.35"/><circle cx="102.4" cy="576.2" r="1.35"/><circle cx="106.1" cy="584.2" r="1.35"/><circle cx="117.6" cy="565.4" r="1.35"/><circle cx="124.3" cy="559.8" r="1.35"/></g>
<line x1="87.20" y1="571.30" x2="225.60" y2="537.70" stroke="#111" stroke-width="1.4"/>
<line x1="58.00" y1="645.25" x2="58.00" y2="766.50" stroke="#222" stroke-width="1.1"/>
<line x1="57.50" y1="766.00" x2="242.50" y2="766.00" stroke="#222" stroke-width="1.1"/>
<line x1="55.00" y1="766.00" x2="58.00" y2="766.00" stroke="#222" stroke-width="0.9"/>
<text x="53.5" y="768.6" font-size="7.3" text-anchor="end">0</text>
<line x1="55.00" y1="741.85" x2="58.00" y2="741.85" stroke="#222" stroke-width="0.9"/>
<text x="53.5" y="744.45" font-size="7.3" text-anchor="end">1,000</text>
<line x1="55.00" y1="717.70" x2="58.00" y2="717.70" stroke="#222" stroke-width="0.9"/>
<text x="53.5" y="720.3000000000001" font-size="7.3" text-anchor="end">2,000</text>
<line x1="55.00" y1="693.55" x2="58.00" y2="693.55" stroke="#222" stroke-width="0.9"/>
<text x="53.5" y="696.15" font-size="7.3" text-anchor="end">3,000</text>
<line x1="55.00" y1="669.40" x2="58.00" y2="669.40" stroke="#222" stroke-width="0.9"/>
<text x="53.5" y="672.0" font-size="7.3" text-anchor="end">4,000</text>
<line x1="55.00" y1="645.25" x2="58.00" y2="645.25" stroke="#222" stroke-width="0.9"/>
<text x="53.5" y="647.85" font-size="7.3" text-anchor="end">5,000</text>
<line x1="58.00" y1="766.00" x2="58.00" y2="769.00" stroke="#222" stroke-width="0.9"/>
<text x="58.0" y="776" font-size="7.3" text-anchor="middle">-5</text>
<line x1="104.00" y1="766.00" x2="104.00" y2="769.00" stroke="#222" stroke-width="0.9"/>
<text x="104.0" y="776" font-size="7.3" text-anchor="middle">0</text>
<line x1="150.00" y1="766.00" x2="150.00" y2="769.00" stroke="#222" stroke-width="0.9"/>
<text x="150.0" y="776" font-size="7.3" text-anchor="middle">5</text>
<line x1="196.00" y1="766.00" x2="196.00" y2="769.00" stroke="#222" stroke-width="0.9"/>
<text x="196.0" y="776" font-size="7.3" text-anchor="middle">10</text>
<line x1="242.00" y1="766.00" x2="242.00" y2="769.00" stroke="#222" stroke-width="0.9"/>
<text x="242.0" y="776" font-size="7.3" text-anchor="middle">15</text>
<text x="155.8" y="790.4" font-size="11" text-anchor="middle" word-spacing="0.5">TET1 Expression (Z Score)</text>
<text x="22" y="707" font-size="11.15" text-anchor="middle" transform="rotate(-90 22 707)"># Of sites that gain methylation</text>
<text x="85" y="647.5" font-size="10.8">Spearman<tspan dx="8" font-style="italic">r</tspan> = -0.24<tspan dx="11" font-style="italic">P</tspan><tspan dx="2.2">=</tspan><tspan dx="2.2">0.017</tspan></text>
<g fill="#111"><circle cx="91.5" cy="697.0" r="1.35"/><circle cx="93.4" cy="702.5" r="1.35"/><circle cx="92.6" cy="703.6" r="1.35"/><circle cx="104.3" cy="699.6" r="1.35"/><circle cx="110.5" cy="703.6" r="1.35"/><circle cx="144.5" cy="701.8" r="1.35"/><circle cx="106.2" cy="713.5" r="1.35"/><circle cx="99.6" cy="716.4" r="1.35"/><circle cx="108.0" cy="716.4" r="1.35"/><circle cx="133.6" cy="716.4" r="1.35"/><circle cx="141.6" cy="718.9" r="1.35"/><circle cx="158.4" cy="720.0" r="1.35"/><circle cx="95.2" cy="720.0" r="1.35"/><circle cx="91.5" cy="721.9" r="1.35"/><circle cx="113.5" cy="721.5" r="1.35"/><circle cx="116.4" cy="722.6" r="1.35"/><circle cx="89.7" cy="724.4" r="1.35"/><circle cx="91.5" cy="725.1" r="1.35"/><circle cx="112.7" cy="724.4" r="1.35"/><circle cx="151.1" cy="725.1" r="1.35"/><circle cx="184.7" cy="726.2" r="1.35"/><circle cx="95.2" cy="727.3" r="1.35"/><circle cx="100.7" cy="727.0" r="1.35"/><circle cx="88.6" cy="731.7" r="1.35"/><circle cx="92.6" cy="731.0" r="1.35"/><circle cx="98.8" cy="731.7" r="1.35"/><circle cx="101.8" cy="732.5" r="1.35"/><circle cx="111.6" cy="730.6" r="1.35"/><circle cx="118.9" cy="733.6" r="1.35"/><circle cx="202.2" cy="736.1" r="1.35"/><circle cx="94.5" cy="735.4" r="1.35"/><circle cx="100.7" cy="735.4" r="1.35"/><circle cx="103.6" cy="737.2" r="1.35"/><circle cx="90.4" cy="738.3" r="1.35"/><circle cx="92.6" cy="739.8" r="1.35"/><circle cx="95.2" cy="739.8" r="1.35"/><circle cx="98.8" cy="739.8" r="1.35"/><circle cx="109.8" cy="739.0" r="1.35"/><circle cx="115.3" cy="738.3" r="1.35"/><circle cx="129.2" cy="737.2" r="1.35"/><circle cx="135.4" cy="737.2" r="1.35"/><circle cx="106.2" cy="741.6" r="1.35"/><circle cx="128.1" cy="739.8" r="1.35"/><circle cx="139.0" cy="740.9" r="1.35"/><circle cx="93.4" cy="743.8" r="1.35"/><circle cx="104.3" cy="742.7" r="1.35"/><circle cx="113.5" cy="743.8" r="1.35"/><circle cx="124.4" cy="744.5" r="1.35"/><circle cx="163.9" cy="745.2" r="1.35"/><circle cx="99.6" cy="746.3" r="1.35"/><circle cx="191.3" cy="747.1" r="1.35"/><circle cx="94.5" cy="747.1" r="1.35"/><circle cx="115.3" cy="748.2" r="1.35"/><circle cx="118.9" cy="749.3" r="1.35"/><circle cx="122.6" cy="748.2" r="1.35"/><circle cx="106.2" cy="749.3" r="1.35"/><circle cx="111.6" cy="750.7" r="1.35"/><circle cx="159.9" cy="749.3" r="1.35"/><circle cx="177.4" cy="751.1" r="1.35"/><circle cx="218.3" cy="751.1" r="1.35"/><circle cx="116.4" cy="751.8" r="1.35"/><circle cx="120.0" cy="751.8" r="1.35"/><circle cx="126.2" cy="751.8" r="1.35"/><circle cx="129.9" cy="752.9" r="1.35"/><circle cx="148.2" cy="752.6" r="1.35"/><circle cx="89.7" cy="753.6" r="1.35"/><circle cx="91.5" cy="754.4" r="1.35"/><circle cx="95.2" cy="752.9" r="1.35"/><circle cx="98.1" cy="751.8" r="1.35"/><circle cx="91.5" cy="757.3" r="1.35"/><circle cx="111.6" cy="755.5" r="1.35"/><circle cx="109.8" cy="757.3" r="1.35"/><circle cx="133.6" cy="755.5" r="1.35"/><circle cx="143.8" cy="756.6" r="1.35"/><circle cx="215.8" cy="756.6" r="1.35"/><circle cx="226.0" cy="755.5" r="1.35"/><circle cx="101.8" cy="763.5" r="1.35"/><circle cx="107.6" cy="735.2" r="1.35"/><circle cx="97.1" cy="724.4" r="1.35"/><circle cx="116.5" cy="723.0" r="1.35"/><circle cx="108.3" cy="751.8" r="1.35"/><circle cx="93.7" cy="728.8" r="1.35"/><circle cx="110.4" cy="738.3" r="1.35"/><circle cx="111.6" cy="747.9" r="1.35"/><circle cx="94.9" cy="732.2" r="1.35"/><circle cx="99.4" cy="724.1" r="1.35"/><circle cx="120.5" cy="746.9" r="1.35"/><circle cx="114.2" cy="722.8" r="1.35"/><circle cx="118.8" cy="745.7" r="1.35"/><circle cx="105.3" cy="745.6" r="1.35"/><circle cx="104.8" cy="729.6" r="1.35"/><circle cx="92.4" cy="729.8" r="1.35"/><circle cx="90.0" cy="733.0" r="1.35"/></g>
<line x1="87.90" y1="734.30" x2="225.60" y2="750.00" stroke="#111" stroke-width="1.4"/>
<text x="268.5" y="446.5" font-size="16.8" text-anchor="start" font-weight="bold">F</text>
<text x="419.4" y="447.2" font-size="12.8" text-anchor="middle" text-decoration="underline">Hormone receptor +</text>
<line x1="324.50" y1="470.75" x2="324.50" y2="592.00" stroke="#222" stroke-width="1.1"/>
<line x1="324.00" y1="591.50" x2="509.00" y2="591.50" stroke="#222" stroke-width="1.1"/>
<line x1="321.50" y1="591.50" x2="324.50" y2="591.50" stroke="#222" stroke-width="0.9"/>
<text x="320.0" y="594.1" font-size="7.3" text-anchor="end">0</text>
<line x1="321.50" y1="567.35" x2="324.50" y2="567.35" stroke="#222" stroke-width="0.9"/>
<text x="320.0" y="569.95" font-size="7.3" text-anchor="end">1,000</text>
<line x1="321.50" y1="543.20" x2="324.50" y2="543.20" stroke="#222" stroke-width="0.9"/>
<text x="320.0" y="545.8000000000001" font-size="7.3" text-anchor="end">2,000</text>
<line x1="321.50" y1="519.05" x2="324.50" y2="519.05" stroke="#222" stroke-width="0.9"/>
<text x="320.0" y="521.65" font-size="7.3" text-anchor="end">3,000</text>
<line x1="321.50" y1="494.90" x2="324.50" y2="494.90" stroke="#222" stroke-width="0.9"/>
<text x="320.0" y="497.5" font-size="7.3" text-anchor="end">4,000</text>
<line x1="321.50" y1="470.75" x2="324.50" y2="470.75" stroke="#222" stroke-width="0.9"/>
<text x="320.0" y="473.35" font-size="7.3" text-anchor="end">5,000</text>
<line x1="324.50" y1="591.50" x2="324.50" y2="594.50" stroke="#222" stroke-width="0.9"/>
<text x="324.5" y="601.5" font-size="7.3" text-anchor="middle">-5</text>
<line x1="370.50" y1="591.50" x2="370.50" y2="594.50" stroke="#222" stroke-width="0.9"/>
<text x="370.5" y="601.5" font-size="7.3" text-anchor="middle">0</text>
<line x1="416.50" y1="591.50" x2="416.50" y2="594.50" stroke="#222" stroke-width="0.9"/>
<text x="416.5" y="601.5" font-size="7.3" text-anchor="middle">5</text>
<line x1="462.50" y1="591.50" x2="462.50" y2="594.50" stroke="#222" stroke-width="0.9"/>
<text x="462.5" y="601.5" font-size="7.3" text-anchor="middle">10</text>
<line x1="508.50" y1="591.50" x2="508.50" y2="594.50" stroke="#222" stroke-width="0.9"/>
<text x="508.5" y="601.5" font-size="7.3" text-anchor="middle">15</text>
<text x="422.3" y="617" font-size="11" text-anchor="middle" word-spacing="0.5">TET1 Expression (Z Score)</text>
<text x="292.4" y="532.5" font-size="11.15" text-anchor="middle" transform="rotate(-90 292.4 532.5)"># Of sites that lose methylation</text>
<text x="364.5" y="471" font-size="10.8">Spearman<tspan dx="8" font-style="italic">r</tspan> = -0.06<tspan dx="11" font-style="italic">P</tspan><tspan dx="2.2">=</tspan><tspan dx="2.2">0.27</tspan></text>
<g fill="#111"><circle cx="371.1" cy="554.1" r="1.35"/><circle cx="359.1" cy="583.8" r="1.35"/><circle cx="360.2" cy="576.6" r="1.35"/><circle cx="357.1" cy="567.7" r="1.35"/><circle cx="356.0" cy="570.9" r="1.35"/><circle cx="376.0" cy="557.3" r="1.35"/><circle cx="367.8" cy="551.0" r="1.35"/><circle cx="376.4" cy="568.1" r="1.35"/><circle cx="368.6" cy="568.9" r="1.35"/><circle cx="360.6" cy="583.5" r="1.35"/><circle cx="363.3" cy="559.7" r="1.35"/><circle cx="368.8" cy="570.2" r="1.35"/><circle cx="366.2" cy="566.6" r="1.35"/><circle cx="363.4" cy="571.1" r="1.35"/><circle cx="360.1" cy="540.5" r="1.35"/><circle cx="371.6" cy="560.5" r="1.35"/><circle cx="372.1" cy="567.6" r="1.35"/><circle cx="359.5" cy="560.1" r="1.35"/><circle cx="361.7" cy="566.6" r="1.35"/><circle cx="365.2" cy="555.1" r="1.35"/><circle cx="362.4" cy="568.6" r="1.35"/><circle cx="361.1" cy="568.4" r="1.35"/><circle cx="366.0" cy="570.9" r="1.35"/><circle cx="356.5" cy="582.3" r="1.35"/><circle cx="362.1" cy="563.6" r="1.35"/><circle cx="362.2" cy="574.4" r="1.35"/><circle cx="366.3" cy="555.8" r="1.35"/><circle cx="357.4" cy="570.0" r="1.35"/><circle cx="362.2" cy="569.8" r="1.35"/><circle cx="373.2" cy="570.3" r="1.35"/><circle cx="370.4" cy="574.6" r="1.35"/><circle cx="357.3" cy="555.4" r="1.35"/><circle cx="362.2" cy="558.8" r="1.35"/><circle cx="361.6" cy="572.7" r="1.35"/><circle cx="374.6" cy="573.7" r="1.35"/><circle cx="360.8" cy="576.1" r="1.35"/><circle cx="374.4" cy="566.6" r="1.35"/><circle cx="360.4" cy="574.4" r="1.35"/><circle cx="362.9" cy="587.5" r="1.35"/><circle cx="359.5" cy="559.5" r="1.35"/><circle cx="380.1" cy="561.7" r="1.35"/><circle cx="359.8" cy="559.6" r="1.35"/><circle cx="362.4" cy="570.3" r="1.35"/><circle cx="358.5" cy="558.4" r="1.35"/><circle cx="365.9" cy="559.7" r="1.35"/><circle cx="359.2" cy="548.0" r="1.35"/><circle cx="361.4" cy="585.4" r="1.35"/><circle cx="365.7" cy="552.0" r="1.35"/><circle cx="364.3" cy="554.6" r="1.35"/><circle cx="359.9" cy="551.8" r="1.35"/><circle cx="369.6" cy="586.2" r="1.35"/><circle cx="361.5" cy="576.2" r="1.35"/><circle cx="372.6" cy="553.9" r="1.35"/><circle cx="364.4" cy="582.5" r="1.35"/><circle cx="359.2" cy="554.6" r="1.35"/><circle cx="373.8" cy="558.0" r="1.35"/><circle cx="363.6" cy="579.4" r="1.35"/><circle cx="363.9" cy="559.3" r="1.35"/><circle cx="357.5" cy="563.8" r="1.35"/><circle cx="359.7" cy="579.4" r="1.35"/><circle cx="357.2" cy="553.6" r="1.35"/><circle cx="372.7" cy="546.2" r="1.35"/><circle cx="357.4" cy="586.9" r="1.35"/><circle cx="362.5" cy="571.6" r="1.35"/><circle cx="369.2" cy="587.9" r="1.35"/><circle cx="364.8" cy="548.6" r="1.35"/><circle cx="364.8" cy="553.5" r="1.35"/><circle cx="358.7" cy="567.4" r="1.35"/><circle cx="361.5" cy="578.5" r="1.35"/><circle cx="364.8" cy="559.2" r="1.35"/><circle cx="360.2" cy="567.9" r="1.35"/><circle cx="362.5" cy="579.7" r="1.35"/><circle cx="361.3" cy="550.0" r="1.35"/><circle cx="371.5" cy="549.1" r="1.35"/><circle cx="361.7" cy="560.9" r="1.35"/><circle cx="359.6" cy="531.7" r="1.35"/><circle cx="361.9" cy="572.8" r="1.35"/><circle cx="367.1" cy="568.2" r="1.35"/><circle cx="366.7" cy="573.5" r="1.35"/><circle cx="361.6" cy="558.9" r="1.35"/><circle cx="360.3" cy="571.1" r="1.35"/><circle cx="360.9" cy="551.5" r="1.35"/><circle cx="364.3" cy="542.2" r="1.35"/><circle cx="363.3" cy="577.6" r="1.35"/><circle cx="363.9" cy="560.1" r="1.35"/><circle cx="356.6" cy="561.7" r="1.35"/><circle cx="361.0" cy="546.4" r="1.35"/><circle cx="366.8" cy="579.7" r="1.35"/><circle cx="357.2" cy="588.0" r="1.35"/><circle cx="359.1" cy="570.4" r="1.35"/><circle cx="362.8" cy="565.4" r="1.35"/><circle cx="362.2" cy="558.8" r="1.35"/><circle cx="361.9" cy="582.0" r="1.35"/><circle cx="364.7" cy="565.3" r="1.35"/><circle cx="361.7" cy="579.3" r="1.35"/><circle cx="360.7" cy="588.5" r="1.35"/><circle cx="365.6" cy="547.9" r="1.35"/><circle cx="362.4" cy="562.8" r="1.35"/><circle cx="367.9" cy="580.4" r="1.35"/><circle cx="360.5" cy="543.3" r="1.35"/><circle cx="363.1" cy="562.6" r="1.35"/><circle cx="361.0" cy="552.1" r="1.35"/><circle cx="366.5" cy="559.7" r="1.35"/><circle cx="362.3" cy="578.3" r="1.35"/><circle cx="364.4" cy="579.7" r="1.35"/><circle cx="360.5" cy="585.9" r="1.35"/><circle cx="359.2" cy="581.8" r="1.35"/><circle cx="371.6" cy="583.9" r="1.35"/><circle cx="358.5" cy="557.4" r="1.35"/><circle cx="375.5" cy="565.8" r="1.35"/><circle cx="370.1" cy="550.4" r="1.35"/><circle cx="364.9" cy="576.1" r="1.35"/><circle cx="366.7" cy="570.1" r="1.35"/><circle cx="364.9" cy="574.6" r="1.35"/><circle cx="364.7" cy="564.6" r="1.35"/><circle cx="364.3" cy="562.8" r="1.35"/><circle cx="362.9" cy="570.7" r="1.35"/><circle cx="360.1" cy="552.7" r="1.35"/><circle cx="357.1" cy="559.5" r="1.35"/><circle cx="369.8" cy="564.5" r="1.35"/><circle cx="370.2" cy="552.8" r="1.35"/><circle cx="372.7" cy="565.0" r="1.35"/><circle cx="361.5" cy="571.9" r="1.35"/><circle cx="364.7" cy="573.5" r="1.35"/><circle cx="364.7" cy="544.0" r="1.35"/><circle cx="364.3" cy="558.9" r="1.35"/><circle cx="366.3" cy="587.3" r="1.35"/><circle cx="371.2" cy="558.4" r="1.35"/><circle cx="358.7" cy="567.2" r="1.35"/><circle cx="369.4" cy="574.2" r="1.35"/><circle cx="358.3" cy="579.1" r="1.35"/><circle cx="363.9" cy="572.7" r="1.35"/><circle cx="366.5" cy="577.8" r="1.35"/><circle cx="361.3" cy="581.2" r="1.35"/><circle cx="368.8" cy="567.4" r="1.35"/><circle cx="366.8" cy="561.5" r="1.35"/><circle cx="371.3" cy="571.3" r="1.35"/><circle cx="368.4" cy="552.8" r="1.35"/><circle cx="366.5" cy="546.6" r="1.35"/><circle cx="359.6" cy="581.1" r="1.35"/><circle cx="366.6" cy="563.1" r="1.35"/><circle cx="371.7" cy="568.7" r="1.35"/><circle cx="355.9" cy="558.9" r="1.35"/><circle cx="368.5" cy="585.4" r="1.35"/><circle cx="357.4" cy="563.5" r="1.35"/><circle cx="358.4" cy="574.8" r="1.35"/><circle cx="365.1" cy="563.3" r="1.35"/><circle cx="378.1" cy="556.2" r="1.35"/><circle cx="361.9" cy="558.0" r="1.35"/><circle cx="358.5" cy="587.9" r="1.35"/><circle cx="362.5" cy="573.6" r="1.35"/><circle cx="359.8" cy="570.8" r="1.35"/><circle cx="364.9" cy="578.8" r="1.35"/><circle cx="362.4" cy="571.5" r="1.35"/><circle cx="361.2" cy="582.1" r="1.35"/><circle cx="357.7" cy="583.8" r="1.35"/><circle cx="360.1" cy="562.6" r="1.35"/><circle cx="362.0" cy="565.7" r="1.35"/><circle cx="356.9" cy="580.2" r="1.35"/><circle cx="359.9" cy="551.5" r="1.35"/><circle cx="366.3" cy="578.3" r="1.35"/><circle cx="356.9" cy="557.6" r="1.35"/><circle cx="361.4" cy="556.1" r="1.35"/><circle cx="363.7" cy="568.8" r="1.35"/><circle cx="360.9" cy="547.3" r="1.35"/><circle cx="358.6" cy="536.5" r="1.35"/><circle cx="355.8" cy="544.9" r="1.35"/><circle cx="368.0" cy="580.7" r="1.35"/><circle cx="359.2" cy="565.8" r="1.35"/><circle cx="360.6" cy="572.5" r="1.35"/><circle cx="358.2" cy="561.3" r="1.35"/><circle cx="356.9" cy="557.4" r="1.35"/><circle cx="367.5" cy="541.3" r="1.35"/><circle cx="366.4" cy="577.1" r="1.35"/><circle cx="361.8" cy="542.7" r="1.35"/><circle cx="364.2" cy="577.4" r="1.35"/><circle cx="357.5" cy="585.0" r="1.35"/><circle cx="359.4" cy="563.5" r="1.35"/><circle cx="362.7" cy="558.8" r="1.35"/><circle cx="361.5" cy="573.9" r="1.35"/><circle cx="356.1" cy="570.3" r="1.35"/><circle cx="362.1" cy="559.1" r="1.35"/><circle cx="377.8" cy="562.4" r="1.35"/><circle cx="360.3" cy="551.2" r="1.35"/><circle cx="359.3" cy="528.5" r="1.35"/><circle cx="358.9" cy="568.8" r="1.35"/><circle cx="365.0" cy="563.7" r="1.35"/><circle cx="366.5" cy="566.5" r="1.35"/><circle cx="369.4" cy="560.5" r="1.35"/><circle cx="367.2" cy="552.8" r="1.35"/><circle cx="362.9" cy="556.3" r="1.35"/><circle cx="364.4" cy="545.1" r="1.35"/><circle cx="364.0" cy="567.5" r="1.35"/><circle cx="365.6" cy="557.1" r="1.35"/><circle cx="370.1" cy="564.7" r="1.35"/><circle cx="365.7" cy="561.4" r="1.35"/><circle cx="364.2" cy="561.6" r="1.35"/><circle cx="362.2" cy="577.5" r="1.35"/><circle cx="370.6" cy="558.8" r="1.35"/><circle cx="361.1" cy="573.8" r="1.35"/><circle cx="360.1" cy="549.8" r="1.35"/><circle cx="361.4" cy="565.7" r="1.35"/><circle cx="358.6" cy="582.7" r="1.35"/><circle cx="372.4" cy="550.8" r="1.35"/><circle cx="362.4" cy="568.8" r="1.35"/><circle cx="359.9" cy="566.8" r="1.35"/><circle cx="356.2" cy="560.2" r="1.35"/><circle cx="364.3" cy="565.0" r="1.35"/><circle cx="363.5" cy="568.0" r="1.35"/><circle cx="380.3" cy="572.2" r="1.35"/><circle cx="362.1" cy="567.4" r="1.35"/><circle cx="361.4" cy="559.4" r="1.35"/><circle cx="368.9" cy="555.5" r="1.35"/><circle cx="364.7" cy="552.1" r="1.35"/><circle cx="360.9" cy="557.3" r="1.35"/><circle cx="355.4" cy="580.1" r="1.35"/><circle cx="366.0" cy="565.4" r="1.35"/><circle cx="357.4" cy="553.9" r="1.35"/><circle cx="359.5" cy="574.8" r="1.35"/><circle cx="362.5" cy="575.7" r="1.35"/><circle cx="361.3" cy="558.8" r="1.35"/><circle cx="363.8" cy="565.2" r="1.35"/><circle cx="364.3" cy="582.2" r="1.35"/><circle cx="359.1" cy="574.2" r="1.35"/><circle cx="356.2" cy="568.8" r="1.35"/><circle cx="363.6" cy="554.9" r="1.35"/><circle cx="362.4" cy="582.5" r="1.35"/><circle cx="359.7" cy="562.6" r="1.35"/><circle cx="359.1" cy="575.4" r="1.35"/><circle cx="360.3" cy="560.0" r="1.35"/><circle cx="364.7" cy="579.7" r="1.35"/><circle cx="363.8" cy="577.3" r="1.35"/><circle cx="365.7" cy="583.9" r="1.35"/><circle cx="361.9" cy="571.7" r="1.35"/><circle cx="360.1" cy="579.4" r="1.35"/><circle cx="362.9" cy="567.2" r="1.35"/><circle cx="357.0" cy="564.9" r="1.35"/><circle cx="362.1" cy="548.9" r="1.35"/><circle cx="365.0" cy="541.1" r="1.35"/><circle cx="361.8" cy="555.0" r="1.35"/><circle cx="360.8" cy="566.7" r="1.35"/><circle cx="364.6" cy="572.6" r="1.35"/><circle cx="360.5" cy="574.6" r="1.35"/><circle cx="362.7" cy="582.8" r="1.35"/><circle cx="374.3" cy="589.6" r="1.35"/><circle cx="363.6" cy="562.5" r="1.35"/><circle cx="359.8" cy="553.3" r="1.35"/><circle cx="360.7" cy="579.4" r="1.35"/><circle cx="361.2" cy="569.7" r="1.35"/><circle cx="362.9" cy="553.2" r="1.35"/><circle cx="357.7" cy="556.8" r="1.35"/><circle cx="361.7" cy="579.0" r="1.35"/><circle cx="360.7" cy="582.0" r="1.35"/><circle cx="356.8" cy="574.3" r="1.35"/><circle cx="359.1" cy="564.5" r="1.35"/><circle cx="357.1" cy="567.2" r="1.35"/><circle cx="362.0" cy="563.7" r="1.35"/><circle cx="362.6" cy="582.8" r="1.35"/><circle cx="361.0" cy="576.6" r="1.35"/><circle cx="362.4" cy="573.2" r="1.35"/><circle cx="360.8" cy="582.5" r="1.35"/><circle cx="362.0" cy="572.8" r="1.35"/><circle cx="360.0" cy="562.8" r="1.35"/><circle cx="369.0" cy="573.7" r="1.35"/><circle cx="375.1" cy="537.9" r="1.35"/><circle cx="361.5" cy="567.9" r="1.35"/><circle cx="359.5" cy="574.9" r="1.35"/><circle cx="357.7" cy="566.4" r="1.35"/><circle cx="363.5" cy="546.9" r="1.35"/><circle cx="358.0" cy="566.9" r="1.35"/><circle cx="366.0" cy="566.6" r="1.35"/><circle cx="356.5" cy="567.3" r="1.35"/><circle cx="364.4" cy="560.9" r="1.35"/><circle cx="362.8" cy="551.2" r="1.35"/><circle cx="364.9" cy="548.5" r="1.35"/><circle cx="361.5" cy="566.5" r="1.35"/><circle cx="358.3" cy="557.9" r="1.35"/><circle cx="358.6" cy="582.8" r="1.35"/><circle cx="361.0" cy="566.8" r="1.35"/><circle cx="373.5" cy="560.0" r="1.35"/><circle cx="360.4" cy="569.6" r="1.35"/><circle cx="373.0" cy="563.2" r="1.35"/><circle cx="371.1" cy="573.6" r="1.35"/><circle cx="367.1" cy="573.2" r="1.35"/><circle cx="359.2" cy="550.8" r="1.35"/><circle cx="368.0" cy="570.1" r="1.35"/><circle cx="359.7" cy="564.1" r="1.35"/><circle cx="369.8" cy="554.7" r="1.35"/><circle cx="365.7" cy="560.2" r="1.35"/><circle cx="359.3" cy="554.8" r="1.35"/><circle cx="357.8" cy="576.5" r="1.35"/><circle cx="366.9" cy="557.1" r="1.35"/><circle cx="360.1" cy="568.2" r="1.35"/><circle cx="360.9" cy="556.4" r="1.35"/><circle cx="364.1" cy="569.3" r="1.35"/><circle cx="358.4" cy="540.7" r="1.35"/><circle cx="359.0" cy="568.4" r="1.35"/><circle cx="372.6" cy="579.1" r="1.35"/><circle cx="359.2" cy="551.7" r="1.35"/><circle cx="363.3" cy="550.6" r="1.35"/><circle cx="358.5" cy="559.7" r="1.35"/><circle cx="358.0" cy="539.5" r="1.35"/><circle cx="362.7" cy="564.3" r="1.35"/><circle cx="365.4" cy="579.3" r="1.35"/><circle cx="360.2" cy="558.9" r="1.35"/><circle cx="367.1" cy="561.8" r="1.35"/><circle cx="363.7" cy="578.0" r="1.35"/><circle cx="362.2" cy="571.0" r="1.35"/><circle cx="358.6" cy="565.1" r="1.35"/><circle cx="364.8" cy="559.2" r="1.35"/><circle cx="357.0" cy="561.8" r="1.35"/><circle cx="366.0" cy="587.0" r="1.35"/><circle cx="364.3" cy="583.1" r="1.35"/><circle cx="364.5" cy="555.8" r="1.35"/><circle cx="367.3" cy="572.1" r="1.35"/><circle cx="371.1" cy="572.3" r="1.35"/><circle cx="359.6" cy="570.5" r="1.35"/><circle cx="358.4" cy="553.6" r="1.35"/><circle cx="363.6" cy="556.8" r="1.35"/><circle cx="364.7" cy="581.0" r="1.35"/><circle cx="360.8" cy="566.5" r="1.35"/><circle cx="360.7" cy="565.7" r="1.35"/><circle cx="372.4" cy="556.5" r="1.35"/><circle cx="364.5" cy="563.2" r="1.35"/><circle cx="365.0" cy="566.5" r="1.35"/><circle cx="360.6" cy="577.7" r="1.35"/><circle cx="356.9" cy="574.1" r="1.35"/><circle cx="372.2" cy="586.8" r="1.35"/><circle cx="361.9" cy="570.7" r="1.35"/><circle cx="363.6" cy="579.7" r="1.35"/><circle cx="365.9" cy="582.0" r="1.35"/><circle cx="362.7" cy="576.4" r="1.35"/><circle cx="358.3" cy="573.9" r="1.35"/><circle cx="360.7" cy="561.4" r="1.35"/><circle cx="368.5" cy="565.4" r="1.35"/><circle cx="362.4" cy="556.1" r="1.35"/><circle cx="369.0" cy="574.7" r="1.35"/><circle cx="357.8" cy="539.4" r="1.35"/><circle cx="357.5" cy="588.0" r="1.35"/><circle cx="357.2" cy="573.0" r="1.35"/><circle cx="363.7" cy="563.6" r="1.35"/><circle cx="359.0" cy="585.8" r="1.35"/><circle cx="360.4" cy="570.6" r="1.35"/><circle cx="358.8" cy="580.2" r="1.35"/><circle cx="361.9" cy="563.6" r="1.35"/><circle cx="364.5" cy="561.6" r="1.35"/><circle cx="362.8" cy="580.5" r="1.35"/><circle cx="358.4" cy="565.1" r="1.35"/><circle cx="365.7" cy="548.1" r="1.35"/><circle cx="360.1" cy="573.9" r="1.35"/><circle cx="360.5" cy="583.0" r="1.35"/><circle cx="365.4" cy="586.1" r="1.35"/><circle cx="360.3" cy="578.5" r="1.35"/><circle cx="366.2" cy="570.2" r="1.35"/><circle cx="357.0" cy="583.5" r="1.35"/><circle cx="372.1" cy="584.2" r="1.35"/><circle cx="362.2" cy="571.6" r="1.35"/><circle cx="358.7" cy="549.2" r="1.35"/><circle cx="357.8" cy="558.3" r="1.35"/><circle cx="361.5" cy="546.0" r="1.35"/><circle cx="365.1" cy="577.0" r="1.35"/><circle cx="360.9" cy="560.3" r="1.35"/><circle cx="359.3" cy="582.5" r="1.35"/><circle cx="360.9" cy="560.1" r="1.35"/><circle cx="358.6" cy="578.3" r="1.35"/><circle cx="366.4" cy="557.3" r="1.35"/><circle cx="359.3" cy="551.3" r="1.35"/><circle cx="363.9" cy="570.7" r="1.35"/><circle cx="356.2" cy="557.5" r="1.35"/><circle cx="365.0" cy="564.6" r="1.35"/><circle cx="353.0" cy="487.2" r="1.35"/><circle cx="362.9" cy="497.4" r="1.35"/><circle cx="393.2" cy="521.2" r="1.35"/><circle cx="380.5" cy="527.4" r="1.35"/><circle cx="409.1" cy="542.9" r="1.35"/><circle cx="382.8" cy="549.3" r="1.35"/><circle cx="379.5" cy="563.9" r="1.35"/><circle cx="385.8" cy="567.3" r="1.35"/><circle cx="390.4" cy="576.1" r="1.35"/><circle cx="384.6" cy="582.8" r="1.35"/><circle cx="380.5" cy="587.4" r="1.35"/><circle cx="403.1" cy="588.5" r="1.35"/><circle cx="377.2" cy="574.7" r="1.35"/><circle cx="377.7" cy="580.0" r="1.35"/><circle cx="362.7" cy="524.6" r="1.35"/><circle cx="358.1" cy="527.0" r="1.35"/><circle cx="363.9" cy="530.4" r="1.35"/><circle cx="361.5" cy="531.5" r="1.35"/><circle cx="358.1" cy="532.7" r="1.35"/><circle cx="360.4" cy="535.5" r="1.35"/><circle cx="367.3" cy="536.9" r="1.35"/><circle cx="365.0" cy="538.5" r="1.35"/></g>
<line x1="324.50" y1="645.25" x2="324.50" y2="766.50" stroke="#222" stroke-width="1.1"/>
<line x1="324.00" y1="766.00" x2="509.00" y2="766.00" stroke="#222" stroke-width="1.1"/>
<line x1="321.50" y1="766.00" x2="324.50" y2="766.00" stroke="#222" stroke-width="0.9"/>
<text x="320.0" y="768.6" font-size="7.3" text-anchor="end">0</text>
<line x1="321.50" y1="741.85" x2="324.50" y2="741.85" stroke="#222" stroke-width="0.9"/>
<text x="320.0" y="744.45" font-size="7.3" text-anchor="end">1,000</text>
<line x1="321.50" y1="717.70" x2="324.50" y2="717.70" stroke="#222" stroke-width="0.9"/>
<text x="320.0" y="720.3000000000001" font-size="7.3" text-anchor="end">2,000</text>
<line x1="321.50" y1="693.55" x2="324.50" y2="693.55" stroke="#222" stroke-width="0.9"/>
<text x="320.0" y="696.15" font-size="7.3" text-anchor="end">3,000</text>
<line x1="321.50" y1="669.40" x2="324.50" y2="669.40" stroke="#222" stroke-width="0.9"/>
<text x="320.0" y="672.0" font-size="7.3" text-anchor="end">4,000</text>
<line x1="321.50" y1="645.25" x2="324.50" y2="645.25" stroke="#222" stroke-width="0.9"/>
<text x="320.0" y="647.85" font-size="7.3" text-anchor="end">5,000</text>
<line x1="324.50" y1="766.00" x2="324.50" y2="769.00" stroke="#222" stroke-width="0.9"/>
<text x="324.5" y="776" font-size="7.3" text-anchor="middle">-5</text>
<line x1="370.50" y1="766.00" x2="370.50" y2="769.00" stroke="#222" stroke-width="0.9"/>
<text x="370.5" y="776" font-size="7.3" text-anchor="middle">0</text>
<line x1="416.50" y1="766.00" x2="416.50" y2="769.00" stroke="#222" stroke-width="0.9"/>
<text x="416.5" y="776" font-size="7.3" text-anchor="middle">5</text>
<line x1="462.50" y1="766.00" x2="462.50" y2="769.00" stroke="#222" stroke-width="0.9"/>
<text x="462.5" y="776" font-size="7.3" text-anchor="middle">10</text>
<line x1="508.50" y1="766.00" x2="508.50" y2="769.00" stroke="#222" stroke-width="0.9"/>
<text x="508.5" y="776" font-size="7.3" text-anchor="middle">15</text>
<text x="422.3" y="790.4" font-size="11" text-anchor="middle" word-spacing="0.5">TET1 Expression (Z Score)</text>
<text x="292.4" y="707" font-size="11.15" text-anchor="middle" transform="rotate(-90 292.4 707)"># Of sites that gain methylation</text>
<text x="364.5" y="647.5" font-size="10.8">Spearman<tspan dx="8" font-style="italic">r</tspan> = 0.02<tspan dx="14.5" font-style="italic">P</tspan><tspan dx="3.4">=</tspan><tspan dx="3.4">0.66</tspan></text>
<g fill="#111"><circle cx="360.2" cy="745.1" r="1.35"/><circle cx="363.1" cy="709.4" r="1.35"/><circle cx="359.3" cy="701.9" r="1.35"/><circle cx="360.4" cy="739.6" r="1.35"/><circle cx="362.5" cy="749.5" r="1.35"/><circle cx="358.5" cy="720.7" r="1.35"/><circle cx="357.9" cy="729.9" r="1.35"/><circle cx="361.5" cy="727.1" r="1.35"/><circle cx="359.5" cy="754.5" r="1.35"/><circle cx="364.7" cy="733.0" r="1.35"/><circle cx="361.3" cy="696.0" r="1.35"/><circle cx="365.0" cy="729.3" r="1.35"/><circle cx="359.6" cy="694.1" r="1.35"/><circle cx="359.6" cy="719.8" r="1.35"/><circle cx="365.4" cy="699.9" r="1.35"/><circle cx="371.6" cy="741.6" r="1.35"/><circle cx="356.3" cy="742.1" r="1.35"/><circle cx="374.7" cy="692.2" r="1.35"/><circle cx="358.7" cy="726.7" r="1.35"/><circle cx="364.1" cy="742.2" r="1.35"/><circle cx="357.6" cy="719.1" r="1.35"/><circle cx="360.2" cy="732.4" r="1.35"/><circle cx="360.1" cy="731.6" r="1.35"/><circle cx="365.5" cy="727.6" r="1.35"/><circle cx="362.8" cy="730.5" r="1.35"/><circle cx="363.2" cy="741.7" r="1.35"/><circle cx="358.1" cy="707.9" r="1.35"/><circle cx="374.0" cy="702.1" r="1.35"/><circle cx="360.8" cy="700.2" r="1.35"/><circle cx="357.7" cy="688.1" r="1.35"/><circle cx="363.2" cy="729.6" r="1.35"/><circle cx="373.4" cy="709.5" r="1.35"/><circle cx="360.5" cy="741.2" r="1.35"/><circle cx="363.2" cy="732.3" r="1.35"/><circle cx="357.6" cy="716.1" r="1.35"/><circle cx="357.0" cy="723.1" r="1.35"/><circle cx="360.2" cy="739.1" r="1.35"/><circle cx="363.4" cy="722.5" r="1.35"/><circle cx="370.1" cy="735.9" r="1.35"/><circle cx="357.0" cy="737.6" r="1.35"/><circle cx="364.4" cy="719.6" r="1.35"/><circle cx="362.4" cy="757.3" r="1.35"/><circle cx="360.0" cy="728.8" r="1.35"/><circle cx="360.6" cy="718.3" r="1.35"/><circle cx="373.1" cy="733.2" r="1.35"/><circle cx="359.6" cy="710.8" r="1.35"/><circle cx="369.1" cy="748.5" r="1.35"/><circle cx="360.6" cy="713.3" r="1.35"/><circle cx="358.6" cy="734.8" r="1.35"/><circle cx="371.1" cy="690.6" r="1.35"/><circle cx="362.9" cy="710.4" r="1.35"/><circle cx="370.2" cy="697.3" r="1.35"/><circle cx="366.7" cy="717.1" r="1.35"/><circle cx="361.1" cy="728.4" r="1.35"/><circle cx="360.2" cy="709.9" r="1.35"/><circle cx="357.9" cy="720.7" r="1.35"/><circle cx="359.3" cy="713.7" r="1.35"/><circle cx="374.7" cy="695.0" r="1.35"/><circle cx="356.8" cy="694.5" r="1.35"/><circle cx="367.7" cy="729.1" r="1.35"/><circle cx="359.4" cy="741.1" r="1.35"/><circle cx="367.3" cy="732.5" r="1.35"/><circle cx="358.3" cy="735.4" r="1.35"/><circle cx="364.5" cy="740.0" r="1.35"/><circle cx="358.1" cy="693.9" r="1.35"/><circle cx="360.1" cy="714.1" r="1.35"/><circle cx="363.3" cy="726.0" r="1.35"/><circle cx="373.7" cy="721.7" r="1.35"/><circle cx="365.9" cy="727.0" r="1.35"/><circle cx="359.7" cy="714.3" r="1.35"/><circle cx="364.7" cy="713.8" r="1.35"/><circle cx="363.0" cy="743.0" r="1.35"/><circle cx="363.5" cy="737.8" r="1.35"/><circle cx="365.0" cy="733.9" r="1.35"/><circle cx="372.3" cy="719.6" r="1.35"/><circle cx="361.7" cy="740.6" r="1.35"/><circle cx="365.7" cy="720.6" r="1.35"/><circle cx="361.7" cy="720.4" r="1.35"/><circle cx="366.1" cy="707.3" r="1.35"/><circle cx="364.6" cy="723.5" r="1.35"/><circle cx="357.6" cy="735.2" r="1.35"/><circle cx="369.3" cy="727.1" r="1.35"/><circle cx="359.5" cy="726.2" r="1.35"/><circle cx="365.5" cy="730.3" r="1.35"/><circle cx="362.2" cy="743.8" r="1.35"/><circle cx="361.8" cy="690.9" r="1.35"/><circle cx="364.3" cy="735.7" r="1.35"/><circle cx="363.1" cy="739.6" r="1.35"/><circle cx="363.5" cy="722.7" r="1.35"/><circle cx="361.6" cy="706.0" r="1.35"/><circle cx="356.5" cy="733.7" r="1.35"/><circle cx="362.9" cy="736.5" r="1.35"/><circle cx="357.4" cy="714.9" r="1.35"/><circle cx="360.1" cy="738.1" r="1.35"/><circle cx="366.5" cy="734.3" r="1.35"/><circle cx="361.4" cy="748.7" r="1.35"/><circle cx="366.7" cy="707.6" r="1.35"/><circle cx="364.4" cy="736.0" r="1.35"/><circle cx="357.0" cy="706.2" r="1.35"/><circle cx="373.1" cy="712.1" r="1.35"/><circle cx="357.4" cy="719.9" r="1.35"/><circle cx="369.7" cy="700.1" r="1.35"/><circle cx="362.1" cy="734.6" r="1.35"/><circle cx="364.0" cy="716.7" r="1.35"/><circle cx="366.6" cy="707.4" r="1.35"/><circle cx="361.9" cy="709.7" r="1.35"/><circle cx="360.9" cy="679.4" r="1.35"/><circle cx="365.0" cy="731.5" r="1.35"/><circle cx="359.5" cy="716.8" r="1.35"/><circle cx="362.3" cy="719.9" r="1.35"/><circle cx="362.9" cy="690.2" r="1.35"/><circle cx="365.1" cy="720.4" r="1.35"/><circle cx="363.5" cy="679.5" r="1.35"/><circle cx="365.4" cy="727.3" r="1.35"/><circle cx="360.2" cy="701.8" r="1.35"/><circle cx="360.9" cy="726.1" r="1.35"/><circle cx="367.8" cy="738.4" r="1.35"/><circle cx="360.1" cy="735.8" r="1.35"/><circle cx="359.2" cy="740.2" r="1.35"/><circle cx="362.4" cy="728.1" r="1.35"/><circle cx="367.0" cy="746.8" r="1.35"/><circle cx="360.7" cy="699.4" r="1.35"/><circle cx="365.3" cy="735.6" r="1.35"/><circle cx="362.6" cy="695.6" r="1.35"/><circle cx="363.4" cy="702.3" r="1.35"/><circle cx="366.5" cy="735.6" r="1.35"/><circle cx="362.0" cy="692.0" r="1.35"/><circle cx="362.7" cy="684.6" r="1.35"/><circle cx="363.4" cy="721.6" r="1.35"/><circle cx="368.1" cy="709.5" r="1.35"/><circle cx="371.1" cy="688.9" r="1.35"/><circle cx="358.1" cy="748.9" r="1.35"/><circle cx="359.4" cy="722.6" r="1.35"/><circle cx="358.2" cy="712.6" r="1.35"/><circle cx="362.5" cy="704.4" r="1.35"/><circle cx="361.5" cy="711.3" r="1.35"/><circle cx="378.7" cy="703.6" r="1.35"/><circle cx="360.4" cy="696.6" r="1.35"/><circle cx="359.6" cy="733.7" r="1.35"/><circle cx="362.8" cy="705.0" r="1.35"/><circle cx="356.8" cy="725.4" r="1.35"/><circle cx="355.8" cy="703.9" r="1.35"/><circle cx="356.8" cy="713.5" r="1.35"/><circle cx="359.8" cy="733.6" r="1.35"/><circle cx="363.7" cy="700.4" r="1.35"/><circle cx="359.4" cy="716.3" r="1.35"/><circle cx="360.0" cy="745.7" r="1.35"/><circle cx="360.6" cy="753.6" r="1.35"/><circle cx="374.9" cy="702.2" r="1.35"/><circle cx="365.2" cy="669.6" r="1.35"/><circle cx="364.3" cy="690.3" r="1.35"/><circle cx="360.5" cy="707.2" r="1.35"/><circle cx="362.0" cy="722.3" r="1.35"/><circle cx="363.6" cy="727.4" r="1.35"/><circle cx="360.6" cy="743.2" r="1.35"/><circle cx="369.4" cy="710.3" r="1.35"/><circle cx="362.1" cy="708.2" r="1.35"/><circle cx="365.8" cy="750.8" r="1.35"/><circle cx="364.2" cy="721.2" r="1.35"/><circle cx="360.2" cy="733.1" r="1.35"/><circle cx="365.3" cy="692.3" r="1.35"/><circle cx="362.7" cy="703.8" r="1.35"/><circle cx="368.4" cy="729.6" r="1.35"/><circle cx="365.1" cy="721.8" r="1.35"/><circle cx="359.0" cy="724.9" r="1.35"/><circle cx="360.0" cy="722.8" r="1.35"/><circle cx="363.1" cy="728.6" r="1.35"/><circle cx="356.0" cy="719.2" r="1.35"/><circle cx="360.2" cy="697.6" r="1.35"/><circle cx="360.6" cy="714.1" r="1.35"/><circle cx="362.0" cy="747.9" r="1.35"/><circle cx="362.7" cy="694.0" r="1.35"/><circle cx="359.7" cy="745.6" r="1.35"/><circle cx="360.6" cy="707.7" r="1.35"/><circle cx="366.0" cy="731.9" r="1.35"/><circle cx="363.6" cy="759.6" r="1.35"/><circle cx="370.6" cy="717.2" r="1.35"/><circle cx="360.9" cy="727.6" r="1.35"/><circle cx="357.0" cy="702.1" r="1.35"/><circle cx="364.8" cy="679.0" r="1.35"/><circle cx="362.2" cy="730.6" r="1.35"/><circle cx="360.1" cy="738.4" r="1.35"/><circle cx="370.4" cy="731.4" r="1.35"/><circle cx="363.9" cy="736.3" r="1.35"/><circle cx="366.6" cy="719.5" r="1.35"/><circle cx="359.6" cy="694.6" r="1.35"/><circle cx="356.9" cy="700.5" r="1.35"/><circle cx="370.7" cy="691.4" r="1.35"/><circle cx="358.1" cy="732.1" r="1.35"/><circle cx="362.6" cy="734.2" r="1.35"/><circle cx="361.3" cy="751.5" r="1.35"/><circle cx="362.5" cy="708.9" r="1.35"/><circle cx="358.7" cy="758.3" r="1.35"/><circle cx="361.4" cy="721.5" r="1.35"/><circle cx="364.0" cy="712.6" r="1.35"/><circle cx="366.3" cy="716.4" r="1.35"/><circle cx="363.5" cy="734.1" r="1.35"/><circle cx="357.2" cy="702.4" r="1.35"/><circle cx="360.7" cy="731.4" r="1.35"/><circle cx="364.2" cy="726.0" r="1.35"/><circle cx="363.7" cy="697.6" r="1.35"/><circle cx="356.8" cy="717.2" r="1.35"/><circle cx="357.6" cy="734.9" r="1.35"/><circle cx="363.8" cy="706.1" r="1.35"/><circle cx="357.0" cy="705.5" r="1.35"/><circle cx="362.2" cy="739.9" r="1.35"/><circle cx="358.2" cy="709.0" r="1.35"/><circle cx="362.3" cy="700.0" r="1.35"/><circle cx="359.1" cy="719.3" r="1.35"/><circle cx="362.3" cy="711.9" r="1.35"/><circle cx="361.8" cy="751.9" r="1.35"/><circle cx="356.9" cy="736.4" r="1.35"/><circle cx="359.3" cy="701.7" r="1.35"/><circle cx="362.4" cy="718.4" r="1.35"/><circle cx="363.0" cy="753.3" r="1.35"/><circle cx="364.1" cy="743.5" r="1.35"/><circle cx="358.6" cy="716.4" r="1.35"/><circle cx="365.6" cy="723.2" r="1.35"/><circle cx="366.7" cy="713.7" r="1.35"/><circle cx="370.1" cy="744.5" r="1.35"/><circle cx="361.5" cy="721.4" r="1.35"/><circle cx="364.0" cy="688.0" r="1.35"/><circle cx="361.0" cy="717.7" r="1.35"/><circle cx="361.9" cy="708.3" r="1.35"/><circle cx="369.3" cy="713.2" r="1.35"/><circle cx="361.0" cy="694.3" r="1.35"/><circle cx="364.6" cy="698.9" r="1.35"/><circle cx="363.5" cy="735.3" r="1.35"/><circle cx="367.9" cy="680.8" r="1.35"/><circle cx="365.6" cy="685.4" r="1.35"/><circle cx="366.2" cy="715.0" r="1.35"/><circle cx="359.1" cy="700.3" r="1.35"/><circle cx="365.2" cy="714.6" r="1.35"/><circle cx="367.5" cy="759.4" r="1.35"/><circle cx="356.6" cy="712.5" r="1.35"/><circle cx="367.8" cy="739.1" r="1.35"/><circle cx="362.1" cy="692.7" r="1.35"/><circle cx="360.8" cy="697.6" r="1.35"/><circle cx="361.8" cy="718.0" r="1.35"/><circle cx="372.5" cy="703.2" r="1.35"/><circle cx="360.7" cy="726.9" r="1.35"/><circle cx="361.0" cy="689.8" r="1.35"/><circle cx="365.3" cy="725.1" r="1.35"/><circle cx="365.8" cy="728.2" r="1.35"/><circle cx="361.0" cy="700.1" r="1.35"/><circle cx="368.7" cy="741.1" r="1.35"/><circle cx="362.2" cy="755.2" r="1.35"/><circle cx="365.7" cy="725.2" r="1.35"/><circle cx="360.6" cy="722.6" r="1.35"/><circle cx="357.5" cy="702.7" r="1.35"/><circle cx="370.0" cy="757.4" r="1.35"/><circle cx="357.7" cy="688.4" r="1.35"/><circle cx="356.3" cy="742.7" r="1.35"/><circle cx="364.0" cy="698.7" r="1.35"/><circle cx="362.7" cy="701.7" r="1.35"/><circle cx="366.0" cy="736.3" r="1.35"/><circle cx="360.8" cy="695.9" r="1.35"/><circle cx="360.8" cy="744.2" r="1.35"/><circle cx="357.7" cy="728.4" r="1.35"/><circle cx="359.5" cy="725.6" r="1.35"/><circle cx="363.8" cy="721.2" r="1.35"/><circle cx="362.8" cy="740.1" r="1.35"/><circle cx="373.1" cy="738.9" r="1.35"/><circle cx="364.4" cy="685.3" r="1.35"/><circle cx="357.9" cy="705.2" r="1.35"/><circle cx="361.0" cy="756.1" r="1.35"/><circle cx="363.3" cy="704.3" r="1.35"/><circle cx="359.3" cy="692.9" r="1.35"/><circle cx="358.5" cy="731.0" r="1.35"/><circle cx="359.4" cy="685.3" r="1.35"/><circle cx="360.1" cy="709.7" r="1.35"/><circle cx="361.0" cy="712.1" r="1.35"/><circle cx="368.5" cy="709.3" r="1.35"/><circle cx="360.2" cy="678.0" r="1.35"/><circle cx="368.3" cy="727.4" r="1.35"/><circle cx="366.7" cy="711.3" r="1.35"/><circle cx="363.7" cy="722.2" r="1.35"/><circle cx="355.6" cy="739.6" r="1.35"/><circle cx="362.5" cy="733.8" r="1.35"/><circle cx="370.2" cy="734.6" r="1.35"/><circle cx="360.2" cy="698.3" r="1.35"/><circle cx="370.7" cy="711.1" r="1.35"/><circle cx="359.4" cy="708.6" r="1.35"/><circle cx="366.2" cy="710.8" r="1.35"/><circle cx="366.4" cy="690.0" r="1.35"/><circle cx="360.5" cy="735.3" r="1.35"/><circle cx="366.6" cy="705.6" r="1.35"/><circle cx="362.7" cy="682.9" r="1.35"/><circle cx="358.9" cy="702.4" r="1.35"/><circle cx="362.3" cy="713.7" r="1.35"/><circle cx="365.8" cy="745.4" r="1.35"/><circle cx="356.0" cy="706.7" r="1.35"/><circle cx="357.0" cy="721.9" r="1.35"/><circle cx="381.5" cy="747.6" r="1.35"/><circle cx="378.5" cy="700.0" r="1.35"/><circle cx="367.2" cy="698.2" r="1.35"/><circle cx="360.6" cy="754.1" r="1.35"/><circle cx="360.3" cy="746.5" r="1.35"/><circle cx="360.2" cy="748.4" r="1.35"/><circle cx="366.6" cy="739.2" r="1.35"/><circle cx="363.4" cy="723.7" r="1.35"/><circle cx="361.4" cy="715.2" r="1.35"/><circle cx="365.5" cy="717.7" r="1.35"/><circle cx="360.6" cy="693.0" r="1.35"/><circle cx="362.9" cy="718.6" r="1.35"/><circle cx="362.5" cy="736.5" r="1.35"/><circle cx="362.3" cy="694.9" r="1.35"/><circle cx="367.4" cy="711.0" r="1.35"/><circle cx="360.8" cy="735.4" r="1.35"/><circle cx="357.8" cy="730.6" r="1.35"/><circle cx="358.4" cy="736.2" r="1.35"/><circle cx="361.7" cy="753.0" r="1.35"/><circle cx="359.1" cy="725.4" r="1.35"/><circle cx="366.8" cy="708.9" r="1.35"/><circle cx="361.7" cy="726.6" r="1.35"/><circle cx="359.0" cy="736.0" r="1.35"/><circle cx="364.2" cy="721.6" r="1.35"/><circle cx="380.3" cy="719.2" r="1.35"/><circle cx="363.7" cy="730.3" r="1.35"/><circle cx="360.8" cy="712.5" r="1.35"/><circle cx="359.2" cy="691.6" r="1.35"/><circle cx="361.9" cy="745.3" r="1.35"/><circle cx="359.3" cy="718.4" r="1.35"/><circle cx="367.6" cy="746.2" r="1.35"/><circle cx="365.5" cy="701.3" r="1.35"/><circle cx="362.3" cy="705.2" r="1.35"/><circle cx="360.6" cy="751.5" r="1.35"/><circle cx="365.7" cy="696.7" r="1.35"/><circle cx="363.3" cy="682.6" r="1.35"/><circle cx="367.3" cy="720.2" r="1.35"/><circle cx="362.5" cy="735.8" r="1.35"/><circle cx="370.1" cy="695.9" r="1.35"/><circle cx="363.6" cy="720.6" r="1.35"/><circle cx="361.3" cy="676.4" r="1.35"/><circle cx="363.0" cy="715.3" r="1.35"/><circle cx="364.2" cy="700.2" r="1.35"/><circle cx="365.5" cy="691.4" r="1.35"/><circle cx="357.7" cy="708.5" r="1.35"/><circle cx="360.2" cy="726.1" r="1.35"/><circle cx="366.7" cy="737.9" r="1.35"/><circle cx="362.0" cy="698.4" r="1.35"/><circle cx="358.8" cy="738.1" r="1.35"/><circle cx="359.1" cy="709.1" r="1.35"/><circle cx="358.7" cy="749.5" r="1.35"/><circle cx="367.5" cy="745.7" r="1.35"/><circle cx="360.4" cy="760.6" r="1.35"/><circle cx="364.7" cy="689.6" r="1.35"/><circle cx="358.3" cy="728.1" r="1.35"/><circle cx="364.9" cy="752.1" r="1.35"/><circle cx="366.6" cy="723.0" r="1.35"/><circle cx="362.7" cy="724.6" r="1.35"/><circle cx="361.9" cy="720.9" r="1.35"/><circle cx="363.8" cy="731.8" r="1.35"/><circle cx="361.1" cy="718.1" r="1.35"/><circle cx="360.9" cy="721.6" r="1.35"/><circle cx="366.7" cy="734.5" r="1.35"/><circle cx="362.5" cy="746.9" r="1.35"/><circle cx="376.8" cy="706.5" r="1.35"/><circle cx="378.1" cy="755.5" r="1.35"/><circle cx="370.7" cy="704.2" r="1.35"/><circle cx="364.6" cy="728.7" r="1.35"/><circle cx="360.9" cy="703.8" r="1.35"/><circle cx="360.2" cy="726.3" r="1.35"/><circle cx="368.4" cy="720.2" r="1.35"/><circle cx="378.0" cy="693.4" r="1.35"/><circle cx="362.5" cy="746.7" r="1.35"/><circle cx="366.6" cy="736.7" r="1.35"/><circle cx="375.6" cy="737.1" r="1.35"/><circle cx="358.2" cy="738.1" r="1.35"/><circle cx="370.0" cy="743.9" r="1.35"/><circle cx="403.5" cy="681.8" r="1.35"/><circle cx="386.5" cy="685.8" r="1.35"/><circle cx="393.8" cy="713.5" r="1.35"/><circle cx="390.8" cy="715.8" r="1.35"/><circle cx="385.3" cy="710.5" r="1.35"/><circle cx="383.5" cy="711.2" r="1.35"/><circle cx="382.8" cy="725.5" r="1.35"/><circle cx="409.3" cy="752.7" r="1.35"/><circle cx="380.5" cy="742.5" r="1.35"/><circle cx="381.2" cy="744.0" r="1.35"/><circle cx="375.4" cy="764.2" r="1.35"/><circle cx="365.0" cy="764.5" r="1.35"/><circle cx="367.3" cy="765.2" r="1.35"/><circle cx="361.5" cy="664.3" r="1.35"/><circle cx="360.0" cy="669.0" r="1.35"/><circle cx="364.0" cy="668.0" r="1.35"/></g>
</svg></body></html>
